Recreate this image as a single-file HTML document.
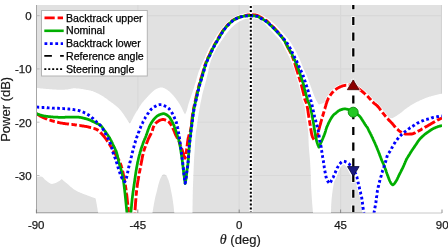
<!DOCTYPE html>
<html><head><meta charset="utf-8"><title>Beam pattern</title>
<style>
html,body{margin:0;padding:0;background:#fff;}
body{width:448px;height:252px;overflow:hidden;position:relative;font-family:"Liberation Sans",sans-serif;}
text{font-family:"Liberation Sans",sans-serif;fill:#1a1a1a;}
.tk{font-size:11.5px;stroke:#1a1a1a;stroke-width:.25px;}
.lg{font-size:10.6px;fill:#000;stroke:#000;stroke-width:.25px;}
.lb{font-size:13px;stroke:#1a1a1a;stroke-width:.2px;}
.th{font-family:"Liberation Serif",serif;font-style:italic;font-size:14px;}
</style></head><body>
<svg width="448" height="252" viewBox="0 0 448 252" style="position:absolute;left:0;top:0">
<defs><clipPath id="c"><rect x="36.5" y="5.0" width="405.5" height="208.0"/></clipPath></defs>
<rect x="36.5" y="5.0" width="405.5" height="208.0" fill="#fff"/>
<g clip-path="url(#c)">
<defs><path id="gp" d="M36.5 5.0L36.5 87.9L37.0 88.0L37.5 88.0L38.0 88.1L38.5 88.1L39.0 88.2L39.5 88.2L40.0 88.3L40.5 88.4L41.0 88.4L41.5 88.5L42.0 88.5L42.5 88.6L43.0 88.6L43.5 88.7L44.0 88.7L44.5 88.8L45.0 88.8L45.5 88.8L46.0 88.9L46.5 88.9L47.0 89.0L47.5 89.0L48.0 89.1L48.5 89.1L49.0 89.1L49.5 89.2L50.0 89.2L50.5 89.2L51.0 89.3L51.5 89.3L52.0 89.3L52.5 89.4L53.1 89.4L53.6 89.5L54.1 89.5L54.6 89.5L55.1 89.6L55.6 89.6L56.1 89.6L56.6 89.7L57.1 89.7L57.6 89.7L58.1 89.7L58.6 89.7L59.1 89.8L59.6 89.8L60.1 89.8L60.6 89.8L61.1 89.8L61.6 89.8L62.1 89.8L62.6 89.8L63.1 89.8L63.6 89.7L64.1 89.7L64.6 89.7L65.1 89.6L65.6 89.6L66.1 89.5L66.6 89.5L67.1 89.4L67.6 89.4L68.1 89.3L68.6 89.2L69.1 89.1L69.6 89.0L70.1 88.9L70.6 88.8L71.1 88.7L71.6 88.6L72.1 88.5L72.6 88.4L73.1 88.3L73.6 88.3L74.1 88.3L74.6 88.3L75.1 88.3L75.6 88.3L76.1 88.4L76.6 88.4L77.1 88.4L77.6 88.5L78.1 88.5L78.6 88.6L79.1 88.6L79.6 88.7L80.1 88.7L80.6 88.8L81.1 88.9L81.6 89.0L82.1 89.0L82.6 89.1L83.1 89.2L83.6 89.3L84.1 89.4L84.6 89.5L85.1 89.6L85.6 89.7L86.1 89.8L86.6 89.9L87.1 89.9L87.6 90.0L88.1 90.1L88.6 90.2L89.1 90.3L89.6 90.4L90.0 90.5L90.5 90.6L91.0 90.7L91.5 90.9L92.0 91.0L92.5 91.1L92.9 91.3L93.4 91.5L93.9 91.7L94.4 91.9L94.8 92.1L95.3 92.3L95.7 92.5L96.2 92.7L96.6 92.9L97.1 93.1L97.6 93.4L98.0 93.6L98.5 93.8L98.9 94.0L99.4 94.3L99.8 94.5L100.2 94.8L100.7 95.0L101.1 95.2L101.6 95.5L102.0 95.8L102.4 96.0L102.9 96.3L103.3 96.5L103.7 96.8L104.1 97.1L104.5 97.4L104.9 97.7L105.4 97.9L105.8 98.2L106.2 98.5L106.6 98.8L107.0 99.1L107.4 99.4L107.8 99.8L108.2 100.1L108.6 100.4L109.0 100.7L109.4 101.0L109.8 101.3L110.2 101.5L110.6 101.8L111.0 102.1L111.4 102.4L111.8 102.7L112.3 103.0L112.7 103.3L113.1 103.6L113.5 104.0L113.9 104.3L114.3 104.6L114.7 104.9L115.1 105.2L115.5 105.5L115.9 105.8L116.3 106.1L116.6 106.4L117.0 106.8L117.4 107.1L117.8 107.4L118.2 107.8L118.5 108.1L118.9 108.5L119.2 108.8L119.6 109.2L119.9 109.6L120.2 109.9L120.6 110.3L120.9 110.7L121.2 111.1L121.5 111.5L121.8 111.9L122.1 112.3L122.4 112.7L122.7 113.1L123.0 113.5L123.3 113.9L123.6 114.3L123.9 114.8L124.1 115.2L124.4 115.6L124.7 116.0L125.0 116.5L125.3 116.9L125.5 117.3L125.8 117.7L126.1 118.1L126.4 118.6L126.7 119.0L126.9 119.4L127.2 119.8L127.5 120.2L127.8 120.7L128.0 121.1L128.3 121.5L128.6 121.9L128.9 122.3L129.2 122.8L129.4 123.2L129.7 123.6L129.7 123.6L130.0 123.2L130.3 122.8L130.6 122.3L130.8 121.9L131.1 121.5L131.4 121.1L131.6 120.6L131.8 120.2L132.1 119.7L132.3 119.3L132.5 118.8L132.8 118.4L133.0 117.9L133.2 117.5L133.4 117.0L133.7 116.6L133.9 116.1L134.2 115.7L134.4 115.2L134.6 114.8L134.9 114.3L135.1 113.9L135.4 113.5L135.7 113.0L135.9 112.6L136.2 112.2L136.4 111.7L136.7 111.3L136.9 110.9L137.2 110.4L137.5 110.0L137.7 109.6L138.0 109.1L138.3 108.7L138.5 108.3L138.8 107.9L139.1 107.4L139.4 107.0L139.6 106.6L139.9 106.1L140.2 105.7L140.5 105.3L140.7 104.9L141.0 104.5L141.3 104.0L141.6 103.6L141.9 103.2L142.2 102.8L142.5 102.4L142.8 102.0L143.2 101.7L143.5 101.3L143.8 100.9L144.1 100.5L144.5 100.1L144.8 99.7L145.2 99.4L145.5 99.0L145.9 98.6L146.2 98.3L146.5 97.9L146.9 97.5L147.2 97.1L147.6 96.8L147.9 96.4L148.3 96.0L148.6 95.6L149.0 95.3L149.3 94.9L149.6 94.5L150.0 94.2L150.4 93.8L150.7 93.4L151.1 93.1L151.4 92.7L151.8 92.4L152.2 92.0L152.5 91.7L152.9 91.4L153.3 91.1L153.7 90.8L154.1 90.5L154.5 90.1L154.9 89.8L155.4 89.5L155.8 89.3L156.2 89.0L156.7 88.8L157.1 88.6L157.6 88.4L158.1 88.2L158.5 88.0L159.0 87.9L159.5 87.7L160.0 87.6L160.5 87.5L161.0 87.4L161.5 87.4L162.0 87.5L162.5 87.6L163.0 87.7L163.5 87.9L163.9 88.1L164.4 88.3L164.9 88.5L165.3 88.7L165.8 89.0L166.2 89.2L166.6 89.5L167.1 89.8L167.5 90.1L167.9 90.4L168.3 90.7L168.7 91.0L169.1 91.3L169.5 91.6L169.8 92.0L170.2 92.3L170.6 92.7L171.0 93.0L171.3 93.4L171.7 93.7L172.0 94.1L172.4 94.5L172.7 94.9L173.0 95.2L173.4 95.6L173.7 96.0L174.0 96.4L174.4 96.8L174.7 97.2L175.0 97.5L175.3 97.9L175.6 98.3L175.9 98.8L176.2 99.2L176.5 99.6L176.8 100.0L177.1 100.4L177.4 100.8L177.7 101.2L178.0 101.6L178.3 102.1L178.5 102.5L178.8 102.9L179.1 103.3L179.4 103.8L179.6 104.2L179.9 104.6L180.1 105.1L180.4 105.5L180.7 105.9L180.9 106.4L181.1 106.8L181.4 107.3L181.6 107.7L181.8 108.2L182.0 108.6L182.2 109.1L182.5 109.6L182.7 110.0L182.9 110.5L183.1 110.9L183.3 111.4L183.6 111.8L183.8 112.3L184.0 112.7L184.3 113.2L184.5 113.6L184.8 114.1L185.0 114.5L185.0 114.5L185.2 114.1L185.5 113.6L185.7 113.2L185.9 112.7L186.1 112.2L186.3 111.8L186.5 111.3L186.7 110.9L186.8 110.4L186.9 109.9L187.1 109.4L187.2 108.9L187.3 108.5L187.5 108.0L187.6 107.5L187.7 107.0L187.8 106.5L187.9 106.0L188.1 105.5L188.2 105.0L188.3 104.5L188.5 104.1L188.6 103.6L188.8 103.1L188.9 102.6L189.1 102.2L189.2 101.7L189.4 101.2L189.5 100.7L189.7 100.3L189.9 99.8L190.0 99.3L190.2 98.8L190.3 98.4L190.5 97.9L190.7 97.4L190.8 96.9L191.0 96.5L191.1 96.0L191.3 95.5L191.5 95.0L191.6 94.6L191.8 94.1L192.0 93.6L192.1 93.1L192.3 92.7L192.5 92.2L192.6 91.7L192.8 91.2L192.9 90.8L193.1 90.3L193.3 89.8L193.4 89.3L193.6 88.9L193.7 88.4L193.9 87.9L194.0 87.4L194.2 86.9L194.3 86.5L194.5 86.0L194.6 85.5L194.8 85.0L194.9 84.6L195.1 84.1L195.2 83.6L195.4 83.1L195.5 82.6L195.7 82.2L195.8 81.7L195.9 81.2L196.1 80.7L196.2 80.2L196.3 79.7L196.5 79.3L196.6 78.8L196.7 78.3L196.9 77.8L197.0 77.3L197.1 76.8L197.3 76.3L197.4 75.9L197.5 75.4L197.7 74.9L197.8 74.4L198.0 73.9L198.1 73.5L198.3 73.0L198.4 72.5L198.6 72.0L198.8 71.6L198.9 71.1L199.1 70.6L199.3 70.2L199.5 69.7L199.6 69.2L199.8 68.8L200.0 68.3L200.2 67.8L200.4 67.4L200.6 66.9L200.8 66.5L201.0 66.0L201.2 65.5L201.4 65.1L201.6 64.6L201.9 64.2L202.1 63.7L202.3 63.3L202.5 62.8L202.7 62.4L202.9 61.9L203.1 61.5L203.4 61.0L203.6 60.6L203.8 60.1L204.0 59.6L204.2 59.2L204.4 58.7L204.6 58.3L204.8 57.8L205.0 57.4L205.2 56.9L205.4 56.4L205.6 56.0L205.8 55.5L206.0 55.0L206.2 54.6L206.4 54.1L206.6 53.6L206.8 53.2L207.0 52.7L207.2 52.3L207.4 51.8L207.6 51.3L207.8 50.9L208.0 50.4L208.2 50.0L208.4 49.5L208.6 49.1L208.8 48.6L209.1 48.2L209.3 47.7L209.5 47.3L209.8 46.9L210.0 46.4L210.2 46.0L210.5 45.5L210.7 45.1L211.0 44.7L211.2 44.2L211.5 43.8L211.8 43.4L212.0 42.9L212.3 42.5L212.5 42.1L212.8 41.6L213.1 41.2L213.3 40.8L213.6 40.4L213.8 39.9L214.1 39.5L214.4 39.1L214.6 38.7L214.9 38.2L215.2 37.8L215.4 37.4L215.7 37.0L216.0 36.5L216.3 36.1L216.5 35.7L216.8 35.3L217.1 34.9L217.4 34.5L217.7 34.0L218.0 33.6L218.2 33.2L218.5 32.8L218.8 32.4L219.1 32.0L219.4 31.6L219.7 31.2L220.0 30.8L220.3 30.4L220.6 30.0L220.9 29.6L221.2 29.2L221.5 28.8L221.8 28.4L222.1 28.0L222.4 27.6L222.8 27.2L223.1 26.8L223.4 26.4L223.7 26.0L224.1 25.7L224.4 25.3L224.7 25.0L225.1 24.6L225.4 24.2L225.8 23.9L226.1 23.5L226.5 23.2L226.9 22.8L227.2 22.5L227.6 22.1L228.0 21.8L228.4 21.5L228.8 21.2L229.2 20.8L229.5 20.5L229.9 20.2L230.3 19.9L230.7 19.6L231.1 19.3L231.5 19.0L232.0 18.8L232.4 18.5L232.8 18.2L233.2 17.9L233.6 17.6L234.1 17.3L234.5 17.1L234.9 16.8L235.4 16.6L235.8 16.3L236.3 16.1L236.7 15.9L237.2 15.6L237.6 15.4L238.1 15.3L238.5 15.1L239.0 14.9L239.5 14.8L239.9 14.6L240.4 14.5L240.9 14.3L241.4 14.2L241.9 14.0L242.4 13.9L242.9 13.8L243.4 13.7L243.8 13.6L244.3 13.5L244.8 13.4L245.3 13.3L245.8 13.2L246.3 13.2L246.8 13.1L247.3 13.0L247.8 13.0L248.3 12.9L248.8 12.9L249.3 12.8L249.8 12.8L250.3 12.8L250.8 12.8L251.3 12.8L251.8 12.9L252.3 12.9L252.8 13.0L253.3 13.0L253.8 13.1L254.3 13.2L254.8 13.3L255.3 13.3L255.8 13.4L256.3 13.5L256.8 13.6L257.3 13.7L257.8 13.8L258.3 14.0L258.7 14.1L259.2 14.2L259.7 14.4L260.2 14.5L260.6 14.7L261.1 14.9L261.6 15.1L262.0 15.3L262.5 15.5L262.9 15.7L263.4 15.9L263.8 16.2L264.3 16.4L264.7 16.7L265.2 16.9L265.6 17.2L266.0 17.4L266.4 17.7L266.9 18.0L267.3 18.2L267.7 18.5L268.1 18.8L268.5 19.1L269.0 19.3L269.4 19.6L269.8 19.9L270.2 20.2L270.6 20.6L271.0 20.9L271.3 21.2L271.7 21.5L272.1 21.8L272.5 22.2L272.9 22.5L273.3 22.8L273.6 23.2L274.0 23.5L274.4 23.8L274.7 24.2L275.1 24.5L275.5 24.9L275.8 25.2L276.2 25.6L276.5 25.9L276.9 26.3L277.2 26.6L277.6 27.0L277.9 27.4L278.3 27.7L278.6 28.1L278.9 28.5L279.3 28.8L279.6 29.2L280.0 29.6L280.3 29.9L280.7 30.3L281.0 30.7L281.3 31.0L281.7 31.4L282.0 31.8L282.4 32.2L282.7 32.5L283.0 32.9L283.4 33.3L283.7 33.6L284.0 34.0L284.3 34.4L284.7 34.8L285.0 35.2L285.3 35.5L285.7 35.9L286.0 36.3L286.3 36.7L286.6 37.1L286.9 37.5L287.3 37.9L287.6 38.2L287.9 38.6L288.2 39.0L288.5 39.4L288.8 39.8L289.1 40.2L289.4 40.6L289.7 41.0L290.0 41.4L290.3 41.9L290.5 42.3L290.8 42.7L291.1 43.1L291.3 43.5L291.6 44.0L291.9 44.4L292.1 44.8L292.4 45.3L292.6 45.7L292.9 46.1L293.1 46.6L293.4 47.0L293.7 47.4L293.9 47.9L294.2 48.3L294.4 48.7L294.6 49.2L294.9 49.6L295.1 50.1L295.4 50.5L295.6 50.9L295.8 51.4L296.1 51.8L296.3 52.3L296.5 52.7L296.8 53.2L297.0 53.6L297.2 54.1L297.4 54.5L297.7 54.9L297.9 55.4L298.1 55.9L298.3 56.3L298.5 56.8L298.7 57.2L298.9 57.7L299.1 58.1L299.4 58.6L299.6 59.0L299.8 59.5L300.0 60.0L300.2 60.4L300.4 60.9L300.5 61.4L300.7 61.8L300.9 62.3L301.1 62.7L301.3 63.2L301.5 63.7L301.6 64.2L301.8 64.6L302.0 65.1L302.2 65.6L302.4 66.0L302.6 66.5L302.8 67.0L302.9 67.4L303.1 67.9L303.4 68.3L303.6 68.8L303.8 69.2L304.0 69.7L304.2 70.1L304.4 70.6L304.6 71.1L304.8 71.5L305.0 72.0L305.3 72.4L305.5 72.9L305.7 73.3L305.9 73.8L306.1 74.2L306.3 74.7L306.5 75.1L306.7 75.6L306.9 76.1L307.1 76.5L307.3 77.0L307.5 77.4L307.7 77.9L307.9 78.4L308.1 78.8L308.2 79.3L308.4 79.8L308.6 80.3L308.7 80.7L308.9 81.2L309.1 81.7L309.2 82.2L309.4 82.6L309.6 83.1L309.7 83.6L309.9 84.1L310.0 84.5L310.2 85.0L310.4 85.5L310.6 85.9L310.7 86.4L310.9 86.9L311.1 87.4L311.2 87.8L311.4 88.3L311.6 88.8L311.7 89.2L311.9 89.7L312.1 90.2L312.3 90.7L312.4 91.1L312.6 91.6L312.8 92.1L313.0 92.5L313.1 93.0L313.3 93.5L313.5 93.9L313.7 94.4L313.9 94.9L314.0 95.4L314.2 95.8L314.4 96.3L314.6 96.8L314.8 97.2L315.0 97.7L315.2 98.2L315.4 98.6L315.6 99.1L315.8 99.5L316.0 99.9L316.3 100.4L316.5 100.8L316.8 101.3L317.0 101.7L317.3 102.1L317.6 102.5L317.8 103.0L318.1 103.4L318.4 103.8L318.7 104.2L319.0 104.6L324.6 102.8L324.8 102.3L324.9 101.8L325.1 101.3L325.3 100.8L325.5 100.3L325.7 99.8L325.9 99.3L326.1 98.8L326.3 98.3L326.6 97.8L326.8 97.3L327.1 96.9L327.4 96.4L327.6 95.9L327.9 95.5L328.2 95.0L328.5 94.6L328.8 94.2L329.1 93.7L329.4 93.3L329.7 92.9L330.0 92.4L330.4 92.0L330.7 91.6L331.1 91.2L331.4 90.8L331.8 90.4L332.2 90.0L332.6 89.6L333.0 89.2L333.4 88.9L333.8 88.5L334.2 88.2L334.7 87.9L335.1 87.5L335.6 87.2L336.0 86.9L336.5 86.6L337.0 86.3L337.4 86.1L337.9 85.8L338.4 85.6L338.9 85.3L339.4 85.1L339.9 84.9L340.4 84.7L340.9 84.5L341.4 84.3L341.9 84.2L342.5 84.0L343.0 83.9L343.6 83.7L344.1 83.6L344.6 83.5L345.1 83.4L345.6 83.4L346.2 83.3L346.7 83.2L347.2 83.1L347.8 83.1L348.3 83.0L348.9 83.0L349.4 83.0L350.0 83.0L350.5 83.0L351.0 83.0L351.6 83.0L352.1 83.1L352.6 83.1L353.1 83.1L353.8 83.2L354.4 83.4L355.1 83.6L355.7 83.9L356.2 84.2L356.7 84.5L357.2 84.9L357.6 85.3L358.1 85.7L358.5 86.0L358.9 86.4L359.3 86.7L359.7 87.1L360.0 87.3L360.4 87.6L360.8 87.9L361.2 88.2L361.6 88.6L362.0 88.9L362.4 89.2L362.8 89.5L363.2 89.9L363.6 90.2L364.0 90.5L364.4 90.8L364.8 91.2L365.2 91.5L365.6 91.8L365.9 92.2L366.3 92.5L366.7 92.9L367.1 93.2L367.5 93.6L367.9 93.9L368.2 94.3L368.6 94.6L369.0 95.0L369.3 95.4L369.7 95.7L370.1 96.1L370.4 96.5L370.8 96.9L371.1 97.3L371.5 97.7L371.8 98.1L372.1 98.5L372.4 98.9L372.7 99.2L373.1 99.6L373.4 100.0L373.7 100.3L374.0 100.6L374.3 100.9L374.6 101.2L375.0 101.5L375.3 101.8L375.7 102.1L376.1 102.4L376.5 102.7L376.9 103.0L377.3 103.4L377.8 103.7L378.2 104.1L378.6 104.5L379.0 104.9L379.3 105.3L379.7 105.7L380.0 106.1L380.4 106.6L380.7 107.0L381.0 107.4L381.3 107.8L381.6 108.2L381.9 108.6L382.2 109.0L382.5 109.4L382.8 109.8L383.1 110.2L383.4 110.6L383.7 111.0L384.0 111.4L384.3 111.8L384.6 112.2L384.9 112.5L385.3 112.9L385.6 113.3L385.9 113.7L386.2 114.1L386.5 114.5L386.8 114.9L387.2 115.2L387.5 115.6L387.8 116.0L388.1 116.4L388.4 116.8L388.8 117.1L389.1 117.5L389.4 117.9L392.3 118.2L392.7 118.0L393.2 117.7L393.6 117.5L394.1 117.2L394.5 117.0L395.0 116.7L395.4 116.5L395.8 116.2L396.2 115.9L396.7 115.7L397.1 115.4L397.5 115.1L398.0 114.8L398.4 114.6L398.8 114.3L399.2 114.0L399.6 113.7L400.0 113.4L400.4 113.1L400.9 112.8L401.3 112.5L401.7 112.2L402.0 111.9L402.4 111.6L402.8 111.2L403.2 110.9L403.6 110.5L403.9 110.2L404.3 109.9L404.7 109.6L405.1 109.3L405.5 109.0L405.9 108.7L406.4 108.4L406.8 108.1L407.2 107.8L407.6 107.5L408.0 107.2L408.4 106.9L408.9 106.7L409.3 106.4L409.7 106.1L410.1 105.8L410.5 105.5L411.0 105.2L411.4 105.0L411.8 104.7L412.2 104.4L412.7 104.2L413.1 103.9L413.6 103.7L414.0 103.4L414.4 103.2L414.9 103.0L415.3 102.7L415.8 102.5L416.2 102.3L416.7 102.0L417.1 101.8L417.6 101.6L418.1 101.4L418.5 101.2L419.0 100.9L419.4 100.7L419.9 100.5L420.3 100.3L420.8 100.1L421.3 99.9L421.7 99.7L422.2 99.5L422.6 99.3L423.1 99.1L423.6 98.9L424.0 98.7L424.5 98.5L425.0 98.3L425.5 98.1L425.9 97.9L426.4 97.7L426.9 97.6L427.3 97.4L427.8 97.2L428.3 97.1L428.8 96.9L429.3 96.8L429.7 96.6L430.2 96.5L430.7 96.4L431.2 96.2L431.7 96.1L432.2 96.0L432.7 95.8L433.2 95.7L433.7 95.6L434.2 95.5L434.6 95.3L435.1 95.2L435.6 95.1L436.1 95.0L436.6 94.8L437.1 94.7L437.6 94.6L438.1 94.5L438.6 94.3L439.1 94.2L439.5 94.1L440.0 94.0L440.5 93.9L441.0 93.7L441.5 93.6L442.0 93.5L442.0 5.0Z M36.5 213.0L36.5 176.9L37.1 176.8L37.6 176.7L38.1 176.7L38.7 176.7L39.2 176.6L39.7 176.6L40.2 176.6L40.7 176.6L41.1 176.6L41.6 176.7L42.0 176.8L42.4 177.0L42.8 177.3L43.2 177.7L43.6 178.1L44.0 178.5L44.3 178.9L44.7 179.4L45.1 179.8L45.5 180.1L45.9 180.5L46.4 180.7L46.8 181.1L47.2 181.4L47.6 181.7L48.1 182.1L48.5 182.4L49.0 182.7L49.4 183.0L49.9 183.3L50.3 183.5L50.8 183.7L51.2 183.8L51.7 183.9L52.2 183.9L52.7 183.8L53.2 183.8L53.7 183.6L54.2 183.5L54.7 183.3L55.2 183.1L55.7 182.9L56.1 182.7L56.6 182.5L57.1 182.3L57.5 182.0L58.0 181.8L58.4 181.6L58.8 181.3L59.3 181.0L59.7 180.7L60.1 180.4L60.5 180.1L60.9 179.7L61.3 179.4L61.7 179.0L61.7 179.0L62.1 179.3L62.4 179.7L62.8 180.0L63.2 180.4L63.6 180.7L64.0 181.0L64.4 181.4L64.7 181.7L65.1 182.0L65.5 182.3L65.9 182.7L66.3 183.0L66.7 183.3L67.1 183.6L67.5 183.9L67.9 184.2L68.3 184.5L68.7 184.9L69.0 185.2L69.4 185.6L69.7 186.0L70.1 186.3L70.5 186.7L70.9 187.0L71.3 187.3L71.7 187.6L72.1 187.9L72.5 188.3L72.9 188.6L73.3 188.9L73.7 189.2L74.1 189.5L74.6 189.7L75.0 190.0L75.4 190.3L75.9 190.5L76.3 190.8L76.7 191.0L77.2 191.3L77.6 191.5L78.1 191.7L78.5 191.9L79.0 192.1L79.5 192.3L79.9 192.5L80.4 192.7L80.9 192.9L81.3 193.1L81.8 193.3L82.3 193.5L82.8 193.7L83.2 193.9L83.7 194.0L84.2 194.2L84.7 194.4L85.1 194.6L85.6 194.8L86.1 195.0L86.6 195.1L87.0 195.3L87.5 195.5L88.0 195.7L88.5 195.8L88.9 196.0L89.4 196.2L89.9 196.3L90.4 196.5L90.9 196.7L91.3 196.9L91.8 197.0L92.3 197.2L92.8 197.4L93.2 197.6L93.7 197.8L94.2 197.9L94.7 198.1L95.1 198.3L95.6 198.5L95.6 198.5L95.7 199.0L95.8 199.5L95.9 200.0L96.0 200.6L96.1 201.1L96.2 201.6L96.3 202.1L96.4 202.6L96.5 203.2L96.6 203.7L96.7 204.2L96.8 204.7L96.9 205.2L96.9 205.7L97.0 206.3L97.1 206.8L97.2 207.3L97.3 207.8L97.4 208.3L97.5 208.9L97.6 209.4L97.6 209.9L97.7 210.4L97.8 210.9L97.9 211.4L98.0 212.0L98.1 212.5L98.2 213.0L98.2 213.0Z M152.5 213.0L152.6 212.5L152.6 212.0L152.7 211.5L152.8 211.0L152.8 210.5L152.9 210.0L153.0 209.5L153.1 209.0L153.2 208.5L153.2 208.0L153.3 207.5L153.4 207.0L153.5 206.5L153.6 206.0L153.7 205.5L153.8 205.0L153.8 204.5L153.9 204.0L154.0 203.5L154.1 203.0L154.2 202.5L154.3 202.0L154.4 201.5L154.5 201.1L154.6 200.6L154.7 200.1L154.8 199.6L154.9 199.1L155.0 198.6L155.1 198.1L155.2 197.6L155.3 197.1L155.4 196.6L155.6 196.1L155.7 195.6L155.8 195.1L155.9 194.7L156.0 194.2L156.2 193.7L156.3 193.2L156.4 192.7L156.6 192.2L156.7 191.7L156.8 191.2L156.9 190.7L157.1 190.3L157.2 189.8L157.3 189.3L157.4 188.8L157.5 188.3L157.6 187.8L157.8 187.3L157.9 186.8L158.0 186.3L158.1 185.8L158.2 185.3L158.3 184.8L158.5 184.4L158.6 183.9L158.7 183.4L158.9 182.9L159.0 182.4L159.2 181.9L159.3 181.5L159.5 181.0L159.7 180.5L159.8 180.0L160.0 179.6L160.2 179.1L160.4 178.6L160.6 178.2L160.8 177.7L161.1 177.3L161.3 176.8L161.6 176.3L161.8 175.9L162.1 175.5L162.5 175.1L162.8 174.8L163.3 174.6L163.8 174.3L164.2 174.3L164.7 174.4L165.2 174.7L165.6 175.0L166.0 175.3L166.3 175.6L166.6 176.1L166.9 176.5L167.1 177.0L167.3 177.5L167.5 177.9L167.7 178.4L167.9 178.8L168.1 179.3L168.3 179.8L168.5 180.2L168.7 180.7L168.8 181.2L169.0 181.7L169.1 182.2L169.2 182.7L169.4 183.1L169.5 183.6L169.6 184.1L169.7 184.6L169.9 185.1L170.0 185.6L170.1 186.1L170.2 186.6L170.3 187.1L170.4 187.6L170.5 188.1L170.6 188.6L170.7 189.1L170.8 189.6L170.9 190.0L171.0 190.5L171.1 191.0L171.2 191.5L171.3 192.0L171.4 192.5L171.5 193.0L171.6 193.5L171.7 194.0L171.8 194.5L171.9 195.0L172.0 195.5L172.1 196.0L172.2 196.5L172.3 197.0L172.4 197.5L172.4 198.0L172.5 198.5L172.6 199.0L172.7 199.5L172.7 200.0L172.8 200.5L172.9 201.0L173.0 201.5L173.0 202.0L173.1 202.5L173.2 203.0L173.2 203.5L173.3 204.0L173.4 204.5L173.4 205.0L173.5 205.5L173.6 206.0L173.6 206.5L173.7 207.0L173.7 207.5L173.8 208.0L173.8 208.5L173.9 209.0L173.9 209.5L174.0 210.0L174.0 210.5L174.1 211.0L174.1 211.5L174.2 212.0L174.2 212.5L174.3 213.0Z M192.5 213.0L192.5 212.5L192.5 212.0L192.5 211.5L192.5 211.0L192.5 210.5L192.5 210.0L192.5 209.5L192.5 209.0L192.5 208.5L192.5 208.0L192.5 207.5L192.5 207.0L192.5 206.5L192.5 206.0L192.6 205.5L192.6 205.0L192.6 204.5L192.6 204.0L192.6 203.5L192.6 203.0L192.6 202.5L192.6 202.0L192.6 201.5L192.6 201.0L192.6 200.5L192.6 200.0L192.6 199.5L192.7 199.0L192.7 198.5L192.7 198.0L192.7 197.5L192.7 197.0L192.7 196.5L192.7 196.0L192.7 195.5L192.7 195.0L192.7 194.5L192.8 194.0L192.8 193.5L192.8 193.0L192.8 192.5L192.8 192.0L192.8 191.5L192.8 191.0L192.8 190.5L192.8 190.0L192.9 189.5L192.9 189.0L192.9 188.5L192.9 188.0L192.9 187.5L192.9 187.0L193.0 186.5L193.0 186.0L193.0 185.5L193.0 185.0L193.0 184.5L193.0 184.0L193.1 183.5L193.1 183.0L193.1 182.5L193.1 182.0L193.1 181.5L193.2 181.0L193.2 180.5L193.2 180.0L193.2 179.5L193.2 179.0L193.3 178.5L193.3 178.0L193.3 177.5L193.3 177.0L193.4 176.5L193.4 176.0L193.4 175.5L193.4 175.0L193.4 174.5L193.4 174.0L193.5 173.5L193.5 173.0L193.5 172.5L193.5 172.0L193.5 171.5L193.6 171.0L193.6 170.5L193.6 170.0L193.6 169.5L193.6 169.0L193.6 168.5L193.7 168.0L193.7 167.5L193.7 167.0L193.7 166.5L193.7 166.0L193.8 165.5L193.8 165.0L193.8 164.5L193.8 164.0L193.8 163.5L193.9 163.0L193.9 162.5L193.9 162.0L193.9 161.5L194.0 161.0L194.0 160.5L194.0 160.0L194.0 159.5L194.1 159.0L194.1 158.5L194.1 158.0L194.1 157.5L194.2 157.0L194.2 156.5L194.2 156.0L194.3 155.5L194.3 155.0L194.3 154.5L194.4 154.0L194.4 153.5L194.4 153.0L194.5 152.5L194.5 152.0L194.5 151.5L194.6 151.0L194.6 150.5L194.6 150.0L194.7 149.5L194.7 149.0L194.7 148.5L194.8 148.0L194.8 147.5L194.8 147.0L194.9 146.5L194.9 146.0L194.9 145.5L195.0 145.0L195.0 144.5L195.0 144.0L195.0 143.5L195.1 143.0L195.1 142.5L195.1 142.0L195.1 141.5L195.2 141.0L195.2 140.5L195.2 140.0L195.3 139.5L195.3 139.0L195.3 138.5L195.4 138.0L195.4 137.5L195.4 137.0L195.5 136.5L195.5 136.0L195.6 135.5L195.6 135.0L195.7 134.5L195.7 134.0L195.8 133.5L195.8 133.0L195.9 132.5L195.9 132.0L196.0 131.5L196.1 131.0L196.2 130.5L196.3 130.0L196.3 129.5L196.4 129.0L196.5 128.5L196.6 128.0L196.7 127.6L196.8 127.1L196.9 126.6L196.9 126.1L197.0 125.6L197.1 125.1L197.1 124.6L197.2 124.1L197.3 123.6L197.3 123.1L197.4 122.6L197.5 122.1L197.5 121.6L197.6 121.1L197.6 120.6L197.7 120.1L197.8 119.6L197.8 119.1L197.9 118.6L198.0 118.1L198.0 117.6L198.1 117.1L198.2 116.6L198.3 116.1L198.3 115.6L198.4 115.2L198.5 114.7L198.6 114.2L198.6 113.7L198.7 113.2L198.8 112.7L198.9 112.2L199.0 111.7L199.1 111.2L199.2 110.7L199.2 110.2L199.3 109.7L199.4 109.2L199.5 108.7L199.6 108.2L199.7 107.8L199.8 107.3L199.9 106.8L200.0 106.3L200.1 105.8L200.1 105.3L200.2 104.8L200.3 104.3L200.4 103.8L200.5 103.3L200.6 102.8L200.7 102.3L200.8 101.8L200.9 101.4L201.0 100.9L201.1 100.4L201.2 99.9L201.3 99.4L201.4 98.9L201.5 98.4L201.6 97.9L201.7 97.4L201.8 96.9L201.9 96.4L202.0 96.0L202.1 95.5L202.2 95.0L202.3 94.5L202.4 94.0L202.5 93.5L202.7 93.0L202.8 92.6L202.9 92.1L203.0 91.6L203.2 91.1L203.3 90.6L203.4 90.1L203.6 89.7L203.7 89.2L203.8 88.7L204.0 88.2L204.1 87.7L204.3 87.2L204.4 86.8L204.5 86.3L204.7 85.8L204.8 85.3L204.9 84.8L205.0 84.3L205.2 83.9L205.3 83.4L205.4 82.9L205.5 82.4L205.7 81.9L205.8 81.4L205.9 80.9L206.0 80.5L206.2 80.0L206.3 79.5L206.4 79.0L206.5 78.5L206.6 78.0L206.8 77.5L206.9 77.1L207.0 76.6L207.1 76.1L207.2 75.6L207.4 75.1L207.5 74.6L207.6 74.1L207.7 73.7L207.8 73.2L207.9 72.7L208.1 72.2L208.2 71.7L208.3 71.2L208.4 70.7L208.5 70.2L208.6 69.7L208.7 69.3L208.8 68.8L208.9 68.3L209.0 67.8L209.1 67.3L209.2 66.8L209.3 66.3L209.4 65.8L209.5 65.3L209.6 64.8L209.8 64.4L209.9 63.9L210.0 63.4L210.2 62.9L210.3 62.5L210.5 62.0L210.6 61.5L210.8 61.0L210.9 60.6L211.1 60.1L211.3 59.6L211.5 59.1L211.7 58.7L211.8 58.2L212.0 57.7L212.2 57.3L212.4 56.8L212.6 56.3L212.8 55.9L213.0 55.4L213.2 55.0L213.4 54.5L213.6 54.1L213.8 53.6L214.0 53.2L214.3 52.7L214.5 52.3L214.7 51.8L214.9 51.4L215.2 50.9L215.4 50.5L215.6 50.0L215.9 49.6L216.1 49.1L216.4 48.7L216.6 48.3L216.9 47.8L217.1 47.4L217.4 47.0L217.6 46.6L217.9 46.1L218.2 45.7L218.4 45.3L218.7 44.9L219.0 44.4L219.2 44.0L219.5 43.6L219.8 43.2L220.1 42.8L220.4 42.4L220.7 42.0L220.9 41.5L221.2 41.1L221.5 40.7L221.8 40.3L222.1 39.9L222.4 39.5L222.6 39.1L222.9 38.6L223.2 38.2L223.5 37.8L223.8 37.4L224.0 37.0L224.3 36.6L224.6 36.2L224.9 35.7L225.2 35.3L225.5 34.9L225.8 34.5L226.1 34.1L226.4 33.7L226.7 33.3L227.0 32.9L227.3 32.5L227.6 32.2L227.9 31.8L228.2 31.4L228.6 31.0L228.9 30.6L229.2 30.2L229.5 29.8L229.9 29.5L230.2 29.1L230.5 28.7L230.9 28.3L231.2 28.0L231.6 27.6L231.9 27.3L232.3 26.9L232.7 26.6L233.0 26.2L233.4 25.9L233.8 25.6L234.1 25.3L234.5 24.9L234.9 24.6L235.3 24.3L235.7 24.0L236.1 23.7L236.5 23.4L236.9 23.1L237.4 22.8L237.8 22.5L238.2 22.3L238.6 22.0L239.1 21.7L239.5 21.5L239.9 21.3L240.4 21.1L240.8 20.8L241.3 20.6L241.7 20.4L242.2 20.2L242.7 20.0L243.1 19.8L243.6 19.6L244.1 19.4L244.6 19.3L245.0 19.1L245.5 19.0L246.0 18.9L246.5 18.8L247.0 18.7L247.5 18.7L248.0 18.6L248.5 18.5L249.0 18.4L249.5 18.4L250.0 18.3L250.5 18.3L251.0 18.3L251.5 18.3L252.0 18.3L252.5 18.3L253.0 18.4L253.5 18.4L254.0 18.5L254.5 18.6L255.0 18.6L255.5 18.7L255.9 18.8L256.4 18.9L256.9 19.0L257.4 19.1L257.9 19.2L258.4 19.4L258.9 19.6L259.3 19.7L259.8 19.9L260.2 20.1L260.7 20.3L261.1 20.6L261.5 20.9L261.9 21.2L262.3 21.5L262.7 21.8L263.1 22.2L263.5 22.5L263.9 22.8L264.2 23.1L264.6 23.5L264.9 23.8L265.3 24.2L265.6 24.6L266.0 24.9L266.3 25.3L266.6 25.7L267.0 26.1L267.3 26.4L267.6 26.8L268.0 27.2L268.3 27.6L268.6 27.9L269.0 28.3L269.3 28.7L269.7 29.0L270.0 29.4L270.4 29.8L270.7 30.1L271.0 30.5L271.4 30.9L271.7 31.2L272.1 31.6L272.4 32.0L272.7 32.3L273.1 32.7L273.4 33.1L273.8 33.4L274.1 33.8L274.4 34.2L274.8 34.5L275.1 34.9L275.4 35.3L275.8 35.7L276.1 36.0L276.5 36.4L276.8 36.8L277.2 37.1L277.5 37.5L277.9 37.9L278.2 38.2L278.5 38.6L278.9 39.0L279.2 39.3L279.5 39.7L279.8 40.1L280.1 40.5L280.4 40.9L280.7 41.3L281.0 41.7L281.3 42.1L281.6 42.5L281.8 43.0L282.1 43.4L282.4 43.8L282.6 44.2L282.9 44.7L283.1 45.1L283.4 45.6L283.6 46.0L283.9 46.4L284.1 46.9L284.3 47.3L284.6 47.7L284.8 48.2L285.1 48.6L285.3 49.1L285.5 49.5L285.7 50.0L286.0 50.4L286.2 50.9L286.4 51.3L286.6 51.8L286.9 52.2L287.1 52.7L287.3 53.1L287.5 53.6L287.7 54.0L287.9 54.5L288.2 54.9L288.4 55.4L288.6 55.8L288.8 56.3L289.0 56.7L289.2 57.2L289.5 57.6L289.7 58.1L289.9 58.5L290.1 59.0L290.3 59.4L290.5 59.9L290.7 60.4L290.9 60.8L291.1 61.3L291.3 61.7L291.5 62.2L291.7 62.6L291.9 63.1L292.1 63.6L292.3 64.0L292.5 64.5L292.7 64.9L292.9 65.4L293.1 65.9L293.3 66.3L293.5 66.8L293.7 67.3L293.9 67.7L294.0 68.2L294.2 68.7L294.4 69.1L294.5 69.6L294.7 70.1L294.8 70.6L295.0 71.0L295.1 71.5L295.2 72.0L295.4 72.5L295.5 73.0L295.6 73.5L295.7 73.9L295.9 74.4L296.0 74.9L296.1 75.4L296.2 75.9L296.4 76.4L296.5 76.9L296.6 77.3L296.8 77.8L296.9 78.3L297.0 78.8L297.2 79.3L297.3 79.8L297.4 80.2L297.6 80.7L297.7 81.2L297.8 81.7L298.0 82.2L298.1 82.6L298.3 83.1L298.4 83.6L298.5 84.1L298.7 84.6L298.8 85.0L298.9 85.5L299.1 86.0L299.2 86.5L299.3 87.0L299.5 87.5L299.6 87.9L299.7 88.4L299.8 88.9L300.0 89.4L300.1 89.9L300.2 90.4L300.4 90.9L300.5 91.3L300.6 91.8L300.7 92.3L300.9 92.8L301.0 93.3L301.1 93.8L301.2 94.3L301.3 94.7L301.4 95.2L301.5 95.7L301.6 96.2L301.7 96.7L301.8 97.2L301.9 97.7L302.0 98.2L302.1 98.7L302.3 99.1L302.4 99.6L302.5 100.1L302.7 100.6L302.9 101.1L303.1 101.5L303.2 102.0L303.4 102.5L303.6 102.9L303.8 103.4L304.0 103.9L304.1 104.3L304.3 104.8L304.4 105.3L304.4 105.8L304.5 106.3L304.6 106.8L304.7 107.2L304.8 107.7L304.8 108.2L304.9 108.7L305.0 109.2L305.0 109.7L305.1 110.2L305.1 110.7L305.2 111.2L305.2 111.7L305.3 112.2L305.3 112.7L305.4 113.2L305.4 113.7L305.5 114.2L305.6 114.7L305.6 115.2L305.7 115.7L305.7 116.2L305.8 116.7L305.9 117.2L305.9 117.7L306.0 118.2L306.1 118.7L306.2 119.2L306.3 119.7L306.4 120.2L306.5 120.7L306.5 121.2L306.6 121.7L306.7 122.2L306.8 122.7L306.9 123.2L307.0 123.6L307.1 124.1L307.2 124.6L307.3 125.1L307.4 125.6L307.4 126.1L307.5 126.6L307.6 127.1L307.7 127.6L307.8 128.1L307.8 128.6L307.9 129.1L308.0 129.6L308.0 130.1L308.1 130.6L308.1 131.1L308.2 131.6L308.2 132.1L308.3 132.6L308.3 133.1L308.3 133.6L308.4 134.0L308.4 134.5L308.4 135.0L308.4 135.5L308.4 136.0L308.4 136.5L308.5 137.0L308.5 137.5L308.5 138.0L308.5 138.6L308.5 139.1L308.5 139.6L308.5 140.1L308.6 140.6L308.6 141.1L308.6 141.6L308.6 142.1L308.6 142.6L308.6 143.1L308.7 143.6L308.7 144.1L308.7 144.6L308.7 145.1L308.7 145.6L308.8 146.1L308.8 146.6L308.8 147.1L308.9 147.6L308.9 148.1L308.9 148.6L309.0 149.1L309.0 149.6L309.1 150.1L309.1 150.6L309.1 151.1L309.2 151.5L309.2 152.0L309.3 152.5L309.3 153.0L309.4 153.5L309.4 154.0L309.5 154.5L309.5 155.0L309.6 155.5L309.6 156.0L309.6 156.5L309.7 157.0L309.7 157.5L309.8 158.0L309.8 158.5L309.9 159.0L309.9 159.5L309.9 160.0L310.0 160.5L310.0 161.0L310.1 161.5L310.1 162.0L310.1 162.5L310.2 163.0L310.2 163.5L310.2 164.0L310.2 164.5L310.3 165.0L310.3 165.5L310.3 166.0L310.3 166.5L310.4 167.0L310.4 167.5L310.4 168.0L310.4 168.5L310.5 169.0L310.5 169.5L310.5 170.0L310.5 170.5L310.5 171.0L310.6 171.5L310.6 172.0L310.6 172.5L310.6 173.0L310.6 173.5L310.6 174.0L310.7 174.5L310.7 175.0L310.7 175.5L310.7 176.0L310.7 176.5L310.8 177.0L310.8 177.5L310.8 178.0L310.8 178.5L310.8 179.0L310.8 179.5L310.9 180.0L310.9 180.5L310.9 181.0L310.9 181.5L310.9 182.0L311.0 182.5L311.0 183.0L311.0 183.5L311.0 184.0L311.0 184.5L311.1 185.0L311.1 185.5L311.1 186.0L311.1 186.5L311.2 187.0L311.2 187.5L311.2 188.0L311.2 188.5L311.3 189.0L311.3 189.5L311.3 190.0L311.3 190.5L311.4 191.0L311.4 191.5L311.4 192.0L311.4 192.5L311.5 193.0L311.5 193.5L311.5 194.0L311.6 194.5L311.6 195.0L311.6 195.5L311.7 196.0L311.7 196.5L311.7 197.0L311.8 197.5L311.8 198.0L311.8 198.5L311.9 199.0L311.9 199.5L311.9 200.0L312.0 200.5L312.0 201.0L312.1 201.5L312.1 202.0L312.1 202.5L312.2 203.0L312.2 203.5L312.2 204.0L312.3 204.5L312.3 205.0L312.4 205.5L312.4 206.0L312.4 206.5L312.5 207.0L312.5 207.5L312.6 208.0L312.6 208.5L312.7 209.0L312.7 209.5L312.7 210.0L312.8 210.5L312.8 211.0L312.9 211.5L312.9 212.0L313.0 212.5L313.0 213.0Z M331.0 213.0L331.0 212.5L331.0 211.9L331.0 211.4L331.0 210.9L331.0 210.3L331.0 209.8L331.0 209.3L331.1 208.7L331.1 208.2L331.1 207.7L331.1 207.2L331.1 206.6L331.2 206.1L331.2 205.6L331.2 205.1L331.2 204.6L331.3 204.1L331.3 203.5L331.3 203.0L331.4 202.5L331.4 202.0L331.4 201.5L331.5 201.0L331.5 200.5L331.5 200.0L331.6 199.5L331.6 199.0L331.7 198.5L331.7 198.0L331.8 197.5L331.8 197.0L331.9 196.5L331.9 196.0L332.0 195.5L332.0 195.0L332.1 194.5L332.2 194.0L332.2 193.5L332.3 193.0L332.4 192.5L332.4 192.0L332.5 191.5L332.6 191.0L332.6 190.6L332.7 190.1L332.8 189.6L332.8 189.1L332.9 188.6L333.0 188.1L333.1 187.6L333.2 187.2L333.2 186.7L333.3 186.2L333.4 185.7L333.5 185.2L333.6 184.8L333.7 184.3L333.8 183.8L333.8 183.3L333.9 182.9L334.0 182.4L334.1 181.9L334.3 181.4L334.5 181.0L334.7 180.5L334.9 180.1L335.2 179.6L335.4 179.2L335.7 178.7L335.9 178.2L336.1 177.8L336.3 177.3L336.5 176.9L336.7 176.4L336.9 175.9L337.1 175.5L337.3 175.0L337.5 174.5L337.7 174.0L337.9 173.6L338.1 173.1L338.2 172.6L338.4 172.2L338.6 171.7L338.8 171.2L339.0 170.8L339.2 170.3L339.5 169.9L339.7 169.4L339.9 169.0L340.1 168.5L340.4 168.0L340.6 167.6L340.9 167.1L341.1 166.7L341.4 166.3L341.7 165.9L342.1 165.5L342.4 165.0L342.8 164.7L343.2 164.4L343.6 164.4L344.1 164.6L344.5 164.9L344.9 165.3L345.3 165.6L345.6 166.0L345.9 166.4L346.2 166.8L346.5 167.3L346.7 167.7L347.0 168.1L347.2 168.6L347.5 169.0L347.7 169.5L347.9 169.9L348.1 170.4L348.3 170.9L348.6 171.3L348.8 171.8L349.0 172.2L349.2 172.7L349.5 173.1L349.7 173.6L349.9 174.0L350.2 174.5L350.4 174.9L350.7 175.3L351.0 175.7L351.3 176.1L351.6 176.5L351.9 176.9L352.3 177.3L352.6 177.7L352.9 178.0L353.3 178.4L353.7 178.7L354.1 179.1L354.6 179.4L355.0 179.7L355.3 180.1L355.6 180.4L355.7 180.8L355.9 181.3L356.0 181.7L356.1 182.2L356.2 182.7L356.3 183.2L356.4 183.8L356.4 184.3L356.5 184.8L356.6 185.3L356.7 185.8L356.8 186.3L356.9 186.8L357.0 187.3L357.2 187.8L357.3 188.3L357.4 188.8L357.5 189.3L357.6 189.8L357.8 190.3L357.9 190.8L358.0 191.2L358.2 191.7L358.3 192.2L358.4 192.7L358.5 193.2L358.7 193.7L358.8 194.2L358.9 194.7L359.1 195.1L359.2 195.6L359.3 196.1L359.5 196.6L359.6 197.1L359.7 197.6L359.9 198.1L360.0 198.6L360.1 199.0L360.2 199.5L360.3 200.0L360.4 200.5L360.5 201.0L360.6 201.5L360.7 202.0L360.8 202.5L360.9 203.0L361.0 203.5L361.1 204.0L361.1 204.5L361.2 205.0L361.3 205.5L361.4 206.0L361.5 206.5L361.6 207.0L361.6 207.5L361.7 208.0L361.8 208.5L361.8 209.0L361.9 209.5L362.0 210.0L362.0 210.5L362.1 211.0L362.2 211.5L362.2 212.0L362.3 212.5L362.3 213.0Z"/><clipPath id="gm"><use href="#gp"/></clipPath></defs>
<use href="#gp" fill="#e1e1e1"/>
<g clip-path="url(#gm)" stroke="#d8d8d8" stroke-width="1.1">
<line x1="137.8" x2="137.8" y1="5.0" y2="213.0"/>
<line x1="239.2" x2="239.2" y1="5.0" y2="213.0"/>
<line x1="340.6" x2="340.6" y1="5.0" y2="213.0"/>
<line x1="36.5" x2="442.0" y1="15.6" y2="15.6"/>
<line x1="36.5" x2="442.0" y1="68.9" y2="68.9"/>
<line x1="36.5" x2="442.0" y1="122.2" y2="122.2"/>
<line x1="36.5" x2="442.0" y1="175.5" y2="175.5"/>
<path d="M441.5 5.0V213.0" fill="none" stroke="#d2d2d2"/>
</g>
<line x1="250.8" x2="250.8" y1="5.0" y2="213.0" stroke="#fff" stroke-width="3.8" stroke-opacity=".85"/>
<defs><path id="rp" d="M36.5 113.8L36.9 114.0L37.4 114.3L37.8 114.6L38.2 114.8L38.7 115.1L39.1 115.3L39.5 115.6L40.0 115.9L40.4 116.1L40.9 116.3L41.3 116.6L41.7 116.8L42.2 117.1L42.6 117.3L43.1 117.5L43.5 117.7L44.0 117.9L44.5 118.1L44.9 118.3L45.4 118.5L45.8 118.7L46.3 118.9L46.8 119.0L47.2 119.2L47.7 119.4L48.2 119.5L48.6 119.7L49.1 119.9L49.6 120.0L50.1 120.2L50.5 120.3L51.0 120.5L51.5 120.6L52.0 120.8L52.5 120.9L53.0 121.1L53.4 121.2L53.9 121.4L54.4 121.5L54.9 121.6L55.4 121.8L55.9 121.9L56.4 122.0L56.9 122.1L57.4 122.2L57.9 122.4L58.4 122.5L58.8 122.6L59.3 122.7L59.8 122.8L60.3 122.9L60.8 123.0L61.3 123.1L61.8 123.1L62.3 123.2L62.8 123.3L63.3 123.4L63.8 123.5L64.3 123.5L64.8 123.6L65.3 123.7L65.8 123.7L66.3 123.8L66.8 123.9L67.3 123.9L67.8 124.0L68.3 124.0L68.8 124.1L69.3 124.2L69.8 124.2L70.3 124.3L70.8 124.3L71.3 124.4L71.8 124.4L72.3 124.5L72.8 124.6L73.3 124.6L73.8 124.7L74.3 124.8L74.8 124.8L75.3 124.9L75.8 125.0L76.2 125.0L76.7 125.1L77.2 125.2L77.7 125.2L78.2 125.3L78.7 125.4L79.2 125.5L79.7 125.5L80.2 125.6L80.7 125.7L81.2 125.7L81.7 125.8L82.2 125.9L82.7 126.0L83.2 126.0L83.7 126.1L84.2 126.2L84.7 126.3L85.2 126.4L85.7 126.4L86.2 126.5L86.7 126.6L87.2 126.7L87.7 126.8L88.2 126.9L88.6 127.0L89.1 127.1L89.6 127.3L90.1 127.4L90.6 127.5L91.1 127.6L91.6 127.8L92.1 127.9L92.6 128.0L93.1 128.2L93.6 128.3L94.1 128.5L94.6 128.7L95.1 128.9L95.6 129.0L96.0 129.2L96.5 129.4L96.9 129.6L97.4 129.9L97.8 130.1L98.2 130.3L98.6 130.6L99.0 130.9L99.3 131.2L99.7 131.6L100.0 132.0L100.3 132.4L100.7 132.7L101.0 133.1L101.4 133.5L101.7 133.8L102.1 134.2L102.4 134.6L102.7 135.0L103.1 135.3L103.4 135.7L103.7 136.1L104.1 136.5L104.4 136.9L104.7 137.3L105.0 137.7L105.3 138.1L105.6 138.5L105.9 138.9L106.2 139.3L106.4 139.7L106.7 140.1L107.0 140.5L107.3 141.0L107.5 141.4L107.8 141.8L108.1 142.2L108.4 142.7L108.6 143.1L108.9 143.5L109.2 143.9L109.4 144.3L109.7 144.8L110.0 145.2L110.2 145.6L110.5 146.0L110.8 146.5L111.0 146.9L111.3 147.3L111.6 147.8L111.8 148.2L112.1 148.6L112.4 149.0L112.6 149.5L112.9 149.9L113.2 150.3L113.4 150.7L113.7 151.2L113.9 151.6L114.2 152.0L114.4 152.5L114.7 152.9L115.0 153.3L115.2 153.8L115.5 154.2L115.7 154.7L116.0 155.1L116.3 155.5L116.5 156.0L116.8 156.4L117.0 156.9L117.3 157.3L117.6 157.7L117.8 158.2L118.1 158.6L118.3 159.1L118.5 159.5L118.8 160.0L119.0 160.4L119.2 160.9L119.4 161.3L119.7 161.8L119.9 162.2L120.1 162.7L120.3 163.1L120.4 163.6L120.6 164.0L120.8 164.5L120.9 165.0L121.1 165.4L121.2 165.9L121.4 166.4L121.5 166.9L121.6 167.3L121.8 167.8L121.9 168.3L122.0 168.8L122.2 169.2L122.3 169.7L122.4 170.2L122.5 170.7L122.6 171.2L122.8 171.7L122.9 172.1L123.0 172.6L123.1 173.1L123.2 173.6L123.3 174.1L123.4 174.6L123.5 175.1L123.6 175.6L123.7 176.1L123.8 176.6L123.9 177.1L124.0 177.6L124.1 178.1L124.2 178.6L124.3 179.1L124.4 179.6L124.5 180.1L124.6 180.6L124.7 181.1L124.7 181.6L124.8 182.1L124.9 182.6L125.0 183.1L125.1 183.6L125.2 184.1L125.2 184.6L125.3 185.1L125.4 185.6L125.5 186.1L125.6 186.6L125.6 187.1L125.7 187.6L125.8 188.1L125.9 188.6L125.9 189.1L126.0 189.6L126.1 190.1L126.1 190.6L126.2 191.1L126.3 191.6L126.3 192.1L126.4 192.6L126.5 193.1L126.5 193.6L126.6 194.1L126.7 194.5L126.7 195.0L126.8 195.5L126.8 196.0L126.9 196.5L127.0 197.0L127.0 197.5L127.1 198.0L127.1 198.5L127.2 199.0L127.2 199.5L127.3 200.0L127.3 200.5L127.4 201.0L127.4 201.5L127.5 202.0L127.5 202.5L127.6 203.0L127.7 203.5L127.7 204.0L127.8 204.5L127.8 205.0L127.9 205.5L127.9 206.0L128.0 206.5L128.0 207.0L128.1 207.5L128.1 208.0L128.2 208.5L128.2 209.0L128.3 209.5L128.3 210.0L128.4 210.5L128.4 211.0L128.5 211.5L128.5 212.0L128.6 212.5L128.7 213.0L128.7 213.5L128.8 214.0L128.8 214.5L128.9 215.0L128.9 215.5L129.0 216.0L129.1 216.5L129.1 217.0L129.2 217.5L129.2 218.0L129.3 218.5L129.3 219.0L129.4 219.5L129.5 220.0L129.5 220.5L129.6 221.0L129.6 221.5L129.7 222.0L129.7 222.5L129.8 223.0L129.9 223.5L129.9 224.0L130.0 224.5L130.0 225.0L130.1 225.5L130.1 226.0L130.2 226.5L130.2 227.0L130.3 227.5L130.4 228.0L130.4 228.5L130.5 229.0L130.5 229.5L130.6 230.0L130.6 230.5L130.7 231.0L130.8 231.5L130.8 232.0L130.9 232.5L130.9 233.0L131.0 233.5L131.0 234.0L131.1 234.5L131.2 235.0L131.2 235.5L131.3 236.0L131.3 236.5L131.4 237.0L131.4 237.5L131.5 238.0L131.6 238.5L131.6 239.0L131.7 239.5L131.7 240.0L131.8 240.5L131.8 241.0L131.9 241.5L131.9 242.0L132.0 242.5L132.1 243.0L132.1 243.5L132.2 244.0L132.2 244.5L132.3 245.0L132.3 245.5L132.4 246.0L132.4 246.0L132.4 245.5L132.5 245.0L132.5 244.5L132.6 244.0L132.6 243.5L132.6 243.0L132.7 242.5L132.7 242.0L132.7 241.5L132.8 241.0L132.8 240.5L132.9 240.0L132.9 239.5L132.9 239.0L133.0 238.5L133.0 238.0L133.0 237.5L133.1 237.0L133.1 236.5L133.2 236.0L133.2 235.5L133.2 235.0L133.3 234.5L133.3 234.0L133.3 233.5L133.4 233.0L133.4 232.5L133.5 232.0L133.5 231.5L133.5 231.0L133.6 230.5L133.6 230.0L133.6 229.5L133.7 229.0L133.7 228.5L133.8 228.0L133.8 227.5L133.8 227.0L133.9 226.5L133.9 226.0L133.9 225.5L134.0 225.0L134.0 224.5L134.0 224.0L134.1 223.5L134.1 223.0L134.2 222.5L134.2 222.0L134.2 221.5L134.3 221.0L134.3 220.5L134.3 220.0L134.4 219.5L134.4 219.0L134.5 218.5L134.5 218.0L134.5 217.5L134.6 217.0L134.6 216.5L134.6 216.0L134.7 215.5L134.7 215.0L134.8 214.5L134.8 214.0L134.8 213.5L134.9 213.0L134.9 212.5L134.9 212.0L135.0 211.5L135.0 211.0L135.0 210.5L135.1 210.0L135.1 209.5L135.1 209.0L135.2 208.5L135.2 208.0L135.2 207.5L135.3 207.0L135.3 206.5L135.3 206.0L135.4 205.5L135.4 205.0L135.4 204.5L135.5 204.0L135.5 203.5L135.5 203.0L135.6 202.5L135.6 202.0L135.7 201.5L135.7 201.0L135.7 200.5L135.8 200.0L135.8 199.5L135.8 199.0L135.9 198.5L135.9 198.0L136.0 197.5L136.0 197.0L136.0 196.5L136.1 196.0L136.1 195.5L136.2 195.0L136.2 194.5L136.3 194.0L136.3 193.5L136.4 193.0L136.4 192.5L136.5 192.0L136.5 191.5L136.6 191.0L136.6 190.5L136.7 190.0L136.8 189.5L136.8 189.0L136.9 188.5L136.9 188.0L137.0 187.5L137.1 187.0L137.1 186.5L137.2 186.0L137.3 185.5L137.3 185.0L137.4 184.5L137.5 184.0L137.5 183.5L137.6 183.0L137.7 182.5L137.8 182.0L137.8 181.5L137.9 181.0L138.0 180.5L138.1 180.1L138.2 179.6L138.3 179.1L138.3 178.6L138.4 178.1L138.5 177.6L138.6 177.1L138.7 176.6L138.8 176.1L138.9 175.6L139.0 175.1L139.1 174.6L139.2 174.1L139.3 173.6L139.3 173.1L139.4 172.7L139.5 172.2L139.6 171.7L139.7 171.2L139.8 170.7L139.9 170.2L140.0 169.7L140.1 169.2L140.2 168.7L140.2 168.2L140.3 167.7L140.4 167.2L140.5 166.7L140.6 166.2L140.7 165.7L140.8 165.3L140.9 164.8L141.0 164.3L141.1 163.8L141.2 163.3L141.3 162.8L141.4 162.3L141.5 161.8L141.6 161.3L141.7 160.8L141.8 160.3L141.9 159.8L142.0 159.3L142.0 158.8L142.1 158.4L142.2 157.9L142.3 157.4L142.4 156.9L142.5 156.4L142.6 155.9L142.7 155.4L142.8 154.9L143.0 154.4L143.1 153.9L143.2 153.4L143.3 153.0L143.4 152.5L143.5 152.0L143.7 151.5L143.8 151.0L143.9 150.5L144.1 150.1L144.2 149.6L144.4 149.1L144.6 148.6L144.7 148.2L144.9 147.7L145.1 147.2L145.3 146.8L145.4 146.3L145.6 145.8L145.8 145.4L146.0 144.9L146.2 144.4L146.4 143.9L146.5 143.5L146.7 143.0L146.9 142.5L147.1 142.1L147.3 141.6L147.5 141.1L147.7 140.7L147.8 140.2L148.0 139.8L148.2 139.3L148.4 138.8L148.6 138.4L148.8 137.9L149.1 137.5L149.3 137.0L149.5 136.6L149.7 136.1L150.0 135.7L150.2 135.2L150.5 134.8L150.7 134.3L150.9 133.9L151.2 133.5L151.4 133.0L151.6 132.6L151.8 132.1L152.0 131.6L152.2 131.2L152.3 130.7L152.5 130.2L152.6 129.7L152.7 129.2L152.9 128.7L153.0 128.2L153.1 127.8L153.3 127.3L153.5 126.8L153.7 126.4L153.9 126.0L154.1 125.5L154.4 125.1L154.7 124.6L155.0 124.2L155.3 123.8L155.6 123.4L156.0 123.0L156.3 122.6L156.7 122.3L157.1 122.0L157.4 121.8L157.8 121.5L158.3 121.2L158.7 120.9L159.2 120.7L159.6 120.4L160.1 120.2L160.6 120.0L161.1 119.8L161.6 119.7L162.1 119.6L162.6 119.5L163.0 119.5L163.5 119.5L164.0 119.6L164.5 119.7L165.0 119.9L165.5 120.1L166.0 120.3L166.5 120.5L167.0 120.7L167.4 120.9L167.8 121.1L168.2 121.4L168.6 121.7L168.9 122.0L169.3 122.4L169.6 122.8L169.9 123.2L170.3 123.6L170.6 124.0L170.9 124.5L171.1 124.9L171.4 125.3L171.6 125.7L171.9 126.2L172.1 126.6L172.3 127.1L172.6 127.5L172.8 128.0L173.0 128.4L173.2 128.9L173.4 129.4L173.6 129.8L173.8 130.3L174.0 130.7L174.2 131.2L174.4 131.7L174.6 132.1L174.8 132.6L174.9 133.1L175.1 133.5L175.3 134.0L175.5 134.5L175.7 134.9L175.9 135.4L176.2 135.8L176.4 136.3L176.6 136.7L176.9 137.1L177.1 137.6L177.4 138.0L177.7 138.4L177.9 138.9L178.1 139.3L178.4 139.8L178.6 140.2L178.8 140.7L178.9 141.1L179.1 141.6L179.3 142.1L179.4 142.6L179.6 143.0L179.7 143.5L179.9 144.0L180.0 144.5L180.2 145.0L180.3 145.4L180.5 145.9L180.7 146.4L180.8 146.9L181.0 147.3L181.2 147.8L181.5 148.2L181.7 148.7L181.9 149.1L182.0 149.6L182.2 150.1L182.4 150.6L182.5 151.0L182.7 151.5L182.8 152.0L183.0 152.5L183.1 153.0L183.3 153.4L183.4 153.9L183.6 154.4L183.7 154.9L183.9 155.3L184.1 155.8L184.3 156.3L184.5 156.7L184.7 157.2L184.9 157.6L185.1 158.1L185.1 158.1L185.2 157.6L185.4 157.1L185.5 156.6L185.6 156.2L185.7 155.7L185.8 155.2L185.9 154.7L186.0 154.2L186.1 153.7L186.2 153.2L186.2 152.7L186.3 152.2L186.4 151.7L186.4 151.2L186.5 150.7L186.6 150.2L186.6 149.7L186.7 149.2L186.7 148.7L186.8 148.2L186.9 147.7L186.9 147.2L187.0 146.7L187.1 146.2L187.1 145.7L187.2 145.2L187.3 144.7L187.3 144.2L187.4 143.7L187.4 143.2L187.5 142.7L187.6 142.3L187.6 141.8L187.7 141.3L187.8 140.8L187.9 140.3L187.9 139.8L188.0 139.3L188.1 138.8L188.2 138.3L188.3 137.8L188.4 137.3L188.5 136.8L188.7 136.4L188.8 135.9L189.0 135.4L189.2 134.9L189.3 134.5L189.5 134.0L189.7 133.5L189.8 133.0L190.0 132.5L190.2 132.1L190.3 131.6L190.4 131.1L190.5 130.6L190.6 130.1L190.7 129.6L190.8 129.1L190.8 128.7L190.9 128.2L191.0 127.7L191.1 127.2L191.1 126.7L191.2 126.2L191.2 125.7L191.3 125.2L191.4 124.7L191.4 124.2L191.5 123.7L191.5 123.2L191.6 122.7L191.7 122.2L191.7 121.7L191.8 121.2L191.8 120.7L191.9 120.2L192.0 119.7L192.0 119.2L192.1 118.7L192.1 118.2L192.2 117.7L192.2 117.2L192.3 116.7L192.4 116.2L192.4 115.7L192.5 115.2L192.6 114.7L192.6 114.2L192.7 113.7L192.8 113.2L192.9 112.7L192.9 112.2L193.0 111.7L193.1 111.2L193.2 110.7L193.3 110.3L193.4 109.8L193.5 109.3L193.6 108.8L193.7 108.3L193.8 107.8L193.9 107.3L194.0 106.8L194.1 106.3L194.2 105.8L194.3 105.3L194.4 104.8L194.5 104.4L194.6 103.9L194.7 103.4L194.9 102.9L195.0 102.4L195.1 101.9L195.2 101.4L195.3 100.9L195.4 100.4L195.5 100.0L195.6 99.5L195.7 99.0L195.8 98.5L195.9 98.0L196.0 97.5L196.1 97.0L196.2 96.5L196.3 96.0L196.5 95.5L196.6 95.1L196.7 94.6L196.8 94.1L196.9 93.6L197.0 93.1L197.1 92.6L197.2 92.1L197.4 91.6L197.5 91.1L197.6 90.7L197.7 90.2L197.8 89.7L198.0 89.2L198.1 88.7L198.2 88.2L198.3 87.7L198.5 87.3L198.6 86.8L198.7 86.3L198.9 85.8L199.0 85.3L199.1 84.8L199.3 84.4L199.4 83.9L199.5 83.4L199.7 82.9L199.8 82.4L200.0 82.0L200.1 81.5L200.3 81.0L200.4 80.5L200.6 80.0L200.7 79.6L200.9 79.1L201.0 78.6L201.1 78.1L201.3 77.6L201.4 77.2L201.6 76.7L201.7 76.2L201.9 75.7L202.0 75.2L202.2 74.8L202.3 74.3L202.5 73.8L202.6 73.3L202.7 72.8L202.9 72.4L203.0 71.9L203.2 71.4L203.3 70.9L203.4 70.4L203.6 69.9L203.7 69.5L203.8 69.0L204.0 68.5L204.1 68.0L204.2 67.5L204.4 67.0L204.5 66.6L204.7 66.1L204.8 65.6L205.0 65.1L205.1 64.7L205.3 64.2L205.5 63.7L205.7 63.2L205.8 62.8L206.0 62.3L206.2 61.8L206.4 61.4L206.6 60.9L206.8 60.4L207.0 60.0L207.2 59.5L207.4 59.1L207.6 58.6L207.8 58.2L208.0 57.7L208.2 57.3L208.5 56.8L208.7 56.4L208.9 55.9L209.2 55.5L209.4 55.0L209.6 54.6L209.8 54.1L210.0 53.7L210.2 53.2L210.4 52.8L210.6 52.3L210.8 51.8L211.0 51.4L211.2 50.9L211.4 50.5L211.7 50.0L211.9 49.6L212.1 49.1L212.3 48.7L212.5 48.2L212.8 47.8L213.0 47.3L213.2 46.9L213.5 46.4L213.7 46.0L214.0 45.6L214.2 45.1L214.4 44.7L214.7 44.2L214.9 43.8L215.2 43.4L215.4 42.9L215.7 42.5L216.0 42.1L216.2 41.6L216.5 41.2L216.7 40.8L217.0 40.4L217.2 39.9L217.5 39.5L217.8 39.1L218.0 38.6L218.3 38.2L218.5 37.8L218.8 37.3L219.0 36.9L219.3 36.5L219.5 36.0L219.8 35.6L220.1 35.2L220.3 34.8L220.6 34.3L220.9 33.9L221.1 33.5L221.4 33.0L221.7 32.6L221.9 32.2L222.2 31.8L222.5 31.3L222.7 30.9L223.0 30.5L223.3 30.1L223.6 29.7L223.9 29.3L224.2 28.9L224.5 28.5L224.8 28.1L225.1 27.7L225.5 27.3L225.8 27.0L226.1 26.6L226.5 26.2L226.8 25.8L227.1 25.5L227.5 25.1L227.8 24.8L228.2 24.4L228.6 24.0L228.9 23.7L229.3 23.3L229.6 23.0L230.0 22.6L230.4 22.3L230.7 21.9L231.1 21.6L231.5 21.3L231.9 20.9L232.3 20.7L232.7 20.4L233.1 20.1L233.5 19.9L234.0 19.7L234.4 19.4L234.8 19.2L235.3 19.0L235.7 18.8L236.2 18.5L236.6 18.3L237.1 18.1L237.6 17.9L238.0 17.7L238.5 17.5L239.0 17.4L239.5 17.2L240.0 17.0L240.4 16.8L240.9 16.7L241.4 16.5L241.9 16.4L242.4 16.2L242.9 16.1L243.4 16.0L243.9 15.9L244.3 15.7L244.8 15.6L245.3 15.5L245.8 15.4L246.3 15.3L246.8 15.2L247.3 15.1L247.8 15.0L248.3 15.0L248.8 14.9L249.3 14.8L249.8 14.8L250.3 14.7L250.8 14.7L251.3 14.7L251.8 14.7L252.3 14.7L252.8 14.8L253.3 14.8L253.8 14.9L254.3 14.9L254.8 15.0L255.3 15.0L255.8 15.1L256.3 15.2L256.7 15.3L257.2 15.4L257.7 15.6L258.1 15.8L258.6 16.0L259.0 16.3L259.5 16.5L259.9 16.8L260.4 17.0L260.8 17.3L261.3 17.5L261.7 17.7L262.2 18.0L262.6 18.2L263.0 18.5L263.5 18.7L263.9 19.0L264.3 19.2L264.8 19.5L265.2 19.8L265.6 20.1L266.0 20.4L266.4 20.6L266.8 21.0L267.2 21.3L267.6 21.6L267.9 21.9L268.3 22.3L268.7 22.6L269.0 23.0L269.4 23.3L269.7 23.7L270.1 24.0L270.5 24.4L270.8 24.7L271.2 25.1L271.5 25.4L271.9 25.8L272.3 26.1L272.6 26.5L273.0 26.8L273.3 27.2L273.7 27.5L274.0 27.9L274.4 28.3L274.7 28.6L275.1 29.0L275.4 29.4L275.8 29.7L276.1 30.1L276.4 30.5L276.8 30.8L277.1 31.2L277.5 31.6L277.8 31.9L278.1 32.3L278.5 32.7L278.8 33.1L279.1 33.5L279.4 33.8L279.8 34.2L280.1 34.6L280.4 35.0L280.7 35.4L281.0 35.8L281.3 36.2L281.6 36.6L281.9 37.0L282.2 37.4L282.5 37.8L282.8 38.2L283.1 38.6L283.4 39.0L283.7 39.5L283.9 39.9L284.2 40.3L284.5 40.7L284.7 41.2L285.0 41.6L285.2 42.0L285.4 42.5L285.6 42.9L285.8 43.4L286.1 43.8L286.3 44.3L286.5 44.8L286.7 45.2L286.9 45.7L287.1 46.1L287.3 46.6L287.6 47.0L287.8 47.5L288.0 47.9L288.3 48.3L288.5 48.8L288.8 49.2L289.0 49.6L289.3 50.1L289.5 50.5L289.7 51.0L290.0 51.4L290.2 51.9L290.4 52.3L290.6 52.8L290.8 53.2L291.1 53.7L291.3 54.1L291.5 54.6L291.7 55.0L291.9 55.5L292.1 56.0L292.3 56.4L292.5 56.9L292.7 57.4L292.8 57.8L293.0 58.3L293.2 58.8L293.4 59.2L293.6 59.7L293.7 60.2L293.9 60.6L294.1 61.1L294.2 61.6L294.4 62.1L294.5 62.5L294.7 63.0L294.8 63.5L295.0 64.0L295.1 64.4L295.3 64.9L295.4 65.4L295.6 65.9L295.7 66.4L295.9 66.9L296.0 67.3L296.1 67.8L296.3 68.3L296.4 68.8L296.6 69.3L296.7 69.7L296.9 70.2L297.0 70.7L297.2 71.2L297.3 71.7L297.5 72.1L297.6 72.6L297.8 73.1L297.9 73.6L298.1 74.0L298.2 74.5L298.4 75.0L298.6 75.5L298.7 75.9L298.9 76.4L299.0 76.9L299.1 77.4L299.3 77.9L299.4 78.3L299.6 78.8L299.7 79.3L299.9 79.8L300.0 80.3L300.2 80.7L300.3 81.2L300.4 81.7L300.6 82.2L300.7 82.7L300.9 83.2L301.0 83.6L301.1 84.1L301.3 84.6L301.4 85.1L301.5 85.6L301.7 86.1L301.8 86.5L301.9 87.0L302.0 87.5L302.2 88.0L302.3 88.5L302.4 89.0L302.5 89.5L302.7 89.9L302.8 90.4L302.9 90.9L303.0 91.4L303.1 91.9L303.3 92.4L303.4 92.9L303.5 93.4L303.6 93.8L303.7 94.3L303.8 94.8L303.9 95.3L304.0 95.8L304.1 96.3L304.2 96.8L304.3 97.3L304.5 97.8L304.6 98.3L304.7 98.7L304.8 99.2L305.0 99.7L305.2 100.2L305.4 100.6L305.6 101.1L305.8 101.5L306.0 102.0L306.2 102.5L306.3 102.9L306.5 103.4L306.6 103.9L306.7 104.4L306.8 104.9L306.9 105.3L307.0 105.8L307.1 106.3L307.2 106.8L307.3 107.3L307.4 107.8L307.5 108.3L307.6 108.8L307.7 109.3L307.8 109.8L307.8 110.3L307.9 110.8L308.0 111.3L308.1 111.8L308.1 112.3L308.2 112.8L308.3 113.3L308.3 113.8L308.4 114.3L308.5 114.8L308.6 115.3L308.6 115.8L308.7 116.3L308.8 116.8L308.9 117.3L309.0 117.7L309.0 118.2L309.1 118.7L309.2 119.2L309.3 119.7L309.4 120.2L309.5 120.7L309.5 121.2L309.6 121.7L309.7 122.2L309.8 122.7L309.9 123.2L309.9 123.7L310.0 124.2L310.1 124.7L310.2 125.2L310.3 125.7L310.3 126.2L310.4 126.7L310.5 127.1L310.6 127.6L310.7 128.1L310.8 128.6L310.9 129.1L310.9 129.6L311.0 130.1L311.1 130.6L311.2 131.1L311.3 131.6L311.3 132.1L311.4 132.6L311.5 133.1L311.6 133.6L311.7 134.1L311.8 134.6L311.9 135.1L312.1 135.5L312.2 136.0L312.4 136.5L312.5 136.9L312.8 137.4L313.0 137.8L313.2 138.3L313.5 138.7L313.7 139.2L314.0 139.6L314.0 139.6L314.3 139.2L314.7 138.9L315.0 138.5L315.3 138.1L315.6 137.7L316.0 137.3L316.3 136.9L316.6 136.5L316.9 136.1L317.2 135.7L317.4 135.2L317.6 134.8L317.7 134.3L317.9 133.9L318.0 133.4L318.2 132.9L318.3 132.4L318.4 131.9L318.5 131.4L318.6 130.9L318.7 130.4L318.8 129.9L318.9 129.4L319.1 128.9L319.2 128.4L319.3 128.0L319.5 127.5L319.6 127.0L319.7 126.5L319.8 126.0L320.0 125.5L320.1 125.1L320.2 124.6L320.4 124.1L320.5 123.6L320.6 123.1L320.8 122.6L320.9 122.1L321.0 121.7L321.2 121.2L321.3 120.7L321.5 120.2L321.6 119.7L321.7 119.3L321.9 118.8L322.0 118.3L322.2 117.8L322.3 117.3L322.4 116.8L322.6 116.4L322.7 115.9L322.9 115.4L323.0 114.9L323.1 114.4L323.3 114.0L323.4 113.5L323.6 113.0L323.7 112.5L323.9 112.0L324.0 111.5L324.1 111.1L324.3 110.6L324.4 110.1L324.6 109.6L324.7 109.1L324.9 108.7L325.0 108.2L325.1 107.7L325.3 107.2L325.4 106.7L325.6 106.2L325.7 105.8L325.9 105.3L326.0 104.8L326.1 104.3L326.3 103.8L326.4 103.3L326.6 102.9L326.7 102.4L326.9 101.9L327.1 101.4L327.2 101.0L327.4 100.5L327.6 100.1L327.8 99.6L328.0 99.1L328.3 98.7L328.5 98.2L328.8 97.8L329.0 97.4L329.3 96.9L329.5 96.5L329.8 96.1L330.1 95.6L330.3 95.2L330.6 94.8L330.9 94.4L331.2 94.0L331.5 93.6L331.8 93.2L332.2 92.8L332.5 92.4L332.8 92.0L333.2 91.7L333.5 91.3L333.9 91.0L334.2 90.6L334.6 90.3L335.0 90.0L335.4 89.7L335.8 89.4L336.2 89.1L336.6 88.8L337.1 88.5L337.5 88.2L337.9 88.0L338.4 87.7L338.8 87.5L339.2 87.3L339.7 87.1L340.1 86.9L340.6 86.7L341.1 86.5L341.6 86.3L342.0 86.1L342.5 86.0L343.0 85.8L343.5 85.7L344.0 85.6L344.5 85.5L345.0 85.4L345.4 85.3L345.9 85.2L346.4 85.2L346.9 85.1L347.4 85.0L348.0 85.0L348.5 84.9L349.0 84.9L349.5 84.9L350.0 84.9L350.5 84.9L351.0 84.9L351.5 84.9L352.0 85.0L352.5 85.0L353.0 85.0L353.4 85.1L353.9 85.2L354.3 85.3L354.8 85.5L355.2 85.8L355.6 86.1L356.0 86.4L356.4 86.7L356.8 87.1L357.2 87.4L357.6 87.8L358.1 88.2L358.5 88.5L358.9 88.8L359.3 89.1L359.7 89.4L360.1 89.7L360.5 90.1L360.8 90.4L361.2 90.7L361.6 91.0L362.0 91.3L362.4 91.6L362.8 92.0L363.2 92.3L363.6 92.6L363.9 92.9L364.3 93.3L364.7 93.6L365.1 93.9L365.4 94.3L365.8 94.6L366.2 94.9L366.6 95.3L366.9 95.6L367.3 96.0L367.6 96.3L368.0 96.7L368.3 97.1L368.7 97.4L369.0 97.8L369.3 98.2L369.7 98.6L370.0 98.9L370.3 99.3L370.7 99.7L371.0 100.1L371.3 100.5L371.6 100.9L372.0 101.2L372.3 101.6L372.7 102.0L373.0 102.3L373.4 102.7L373.8 103.0L374.1 103.3L374.5 103.6L374.9 103.9L375.3 104.2L375.7 104.5L376.1 104.9L376.5 105.2L376.9 105.5L377.3 105.9L377.6 106.2L377.9 106.6L378.3 107.0L378.6 107.3L378.9 107.7L379.2 108.1L379.5 108.5L379.8 108.9L380.1 109.3L380.4 109.8L380.7 110.2L381.0 110.6L381.3 111.0L381.6 111.4L381.9 111.8L382.2 112.2L382.5 112.6L382.8 113.0L383.1 113.4L383.5 113.7L383.8 114.1L384.1 114.5L384.4 114.9L384.7 115.3L385.1 115.7L385.4 116.1L385.7 116.5L386.0 116.8L386.3 117.2L386.7 117.6L387.0 118.0L387.3 118.4L387.7 118.8L388.0 119.1L388.3 119.5L388.7 119.9L389.0 120.2L389.4 120.6L389.7 120.9L390.1 121.3L390.5 121.6L390.8 122.0L391.2 122.3L391.5 122.7L391.9 123.1L392.2 123.4L392.5 123.8L392.8 124.2L393.2 124.6L393.5 125.0L393.8 125.4L394.1 125.8L394.4 126.2L394.7 126.6L395.0 126.9L395.4 127.3L395.7 127.7L396.1 128.0L396.4 128.4L396.8 128.7L397.2 129.1L397.6 129.4L397.9 129.7L398.3 130.1L398.7 130.4L399.1 130.8L399.5 131.1L399.9 131.4L400.3 131.7L400.7 132.0L401.1 132.2L401.6 132.4L402.0 132.7L402.5 132.9L402.9 133.1L403.4 133.3L403.9 133.5L404.3 133.7L404.8 133.9L405.3 134.0L405.8 134.1L406.3 134.1L406.8 134.1L407.3 134.1L407.8 134.1L408.3 134.1L408.8 134.1L409.3 134.1L409.8 134.0L410.3 134.0L410.8 134.0L411.3 134.0L411.8 134.0L412.3 133.9L412.8 133.8L413.2 133.6L413.7 133.4L414.2 133.2L414.6 133.0L415.1 132.8L415.6 132.5L416.0 132.3L416.5 132.1L416.9 131.8L417.4 131.6L417.8 131.4L418.3 131.2L418.7 130.9L419.2 130.7L419.6 130.5L420.1 130.2L420.5 130.0L420.9 129.7L421.4 129.4L421.8 129.2L422.2 128.9L422.7 128.7L423.1 128.4L423.5 128.2L424.0 127.9L424.4 127.7L424.8 127.4L425.3 127.2L425.7 126.9L426.2 126.7L426.6 126.4L427.0 126.2L427.5 125.9L427.9 125.7L428.3 125.4L428.8 125.2L429.2 124.9L429.6 124.7L430.1 124.4L430.5 124.2L430.9 123.9L431.4 123.7L431.8 123.4L432.2 123.1L432.7 122.9L433.1 122.6L433.5 122.4L434.0 122.1L434.4 121.8L434.8 121.6L435.2 121.3L435.7 121.1L436.1 120.8L436.6 120.6L437.0 120.4L437.5 120.1L437.9 119.9L438.4 119.7L438.8 119.5L439.3 119.3L439.7 119.0L440.2 118.8L440.6 118.6L441.1 118.4L441.5 118.2L442.0 118.0"/></defs>
<use href="#rp" fill="none" stroke="#fff" stroke-opacity=".7" stroke-width="4.4" stroke-dasharray="12 2.5 5.5 2.5" stroke-linejoin="round"/>
<use href="#rp" fill="none" stroke="#f00" stroke-width="2.9" stroke-dasharray="12 2.5 5.5 2.5" stroke-linejoin="round"/>
<path d="M36.5 113.8L37.0 113.9L37.5 114.1L37.9 114.2L38.4 114.4L38.9 114.6L39.4 114.7L39.9 114.9L40.4 115.0L40.8 115.2L41.3 115.3L41.8 115.4L42.3 115.5L42.8 115.7L43.3 115.8L43.8 115.9L44.2 116.0L44.7 116.1L45.2 116.1L45.7 116.2L46.2 116.3L46.7 116.3L47.2 116.4L47.7 116.4L48.2 116.5L48.7 116.5L49.2 116.6L49.7 116.7L50.2 116.7L50.7 116.8L51.2 116.8L51.7 116.8L52.2 116.9L52.7 116.9L53.2 117.0L53.7 117.0L54.2 117.0L54.7 117.1L55.2 117.1L55.7 117.1L56.2 117.2L56.7 117.2L57.2 117.2L57.7 117.2L58.2 117.3L58.7 117.3L59.2 117.3L59.7 117.3L60.2 117.3L60.7 117.3L61.2 117.3L61.7 117.3L62.2 117.3L62.8 117.3L63.3 117.3L63.8 117.3L64.3 117.3L64.8 117.3L65.3 117.2L65.8 117.2L66.3 117.2L66.8 117.2L67.3 117.2L67.8 117.2L68.3 117.2L68.8 117.1L69.3 117.1L69.8 117.1L70.3 117.1L70.8 117.1L71.3 117.1L71.8 117.1L72.3 117.0L72.8 117.0L73.3 117.0L73.8 117.0L74.3 117.0L74.8 117.0L75.3 117.0L75.8 117.0L76.3 117.0L76.8 117.0L77.3 117.0L77.8 117.1L78.3 117.1L78.8 117.2L79.3 117.3L79.8 117.3L80.3 117.4L80.8 117.5L81.3 117.6L81.8 117.7L82.3 117.8L82.8 118.0L83.3 118.1L83.8 118.2L84.3 118.3L84.7 118.4L85.2 118.6L85.7 118.7L86.2 118.8L86.7 118.9L87.1 119.1L87.6 119.2L88.1 119.4L88.5 119.6L89.0 119.7L89.5 119.9L89.9 120.1L90.4 120.3L90.9 120.5L91.3 120.7L91.8 121.0L92.2 121.2L92.7 121.4L93.2 121.6L93.6 121.8L94.1 122.1L94.5 122.3L95.0 122.5L95.4 122.7L95.9 122.9L96.3 123.2L96.8 123.4L97.3 123.6L97.8 123.8L98.2 124.0L98.7 124.2L99.1 124.4L99.5 124.7L99.9 125.0L100.3 125.2L100.7 125.6L101.0 125.9L101.4 126.2L101.7 126.6L102.0 127.0L102.3 127.4L102.6 127.8L102.9 128.2L103.2 128.7L103.5 129.1L103.8 129.5L104.1 130.0L104.4 130.4L104.7 130.8L105.0 131.2L105.3 131.6L105.6 132.0L105.9 132.4L106.1 132.8L106.4 133.2L106.7 133.7L107.0 134.1L107.3 134.5L107.6 134.9L107.9 135.3L108.2 135.7L108.4 136.1L108.7 136.6L109.0 137.0L109.3 137.4L109.5 137.8L109.8 138.3L110.0 138.7L110.3 139.1L110.5 139.6L110.8 140.0L111.0 140.5L111.2 140.9L111.5 141.3L111.7 141.8L111.9 142.2L112.1 142.7L112.3 143.2L112.5 143.6L112.8 144.1L113.0 144.5L113.2 145.0L113.4 145.4L113.6 145.9L113.8 146.3L114.0 146.8L114.3 147.2L114.5 147.7L114.7 148.2L114.9 148.6L115.2 149.1L115.4 149.5L115.6 150.0L115.8 150.4L116.0 150.9L116.2 151.3L116.3 151.8L116.5 152.3L116.6 152.8L116.8 153.2L116.9 153.7L117.0 154.2L117.2 154.7L117.3 155.2L117.4 155.7L117.5 156.2L117.6 156.6L117.7 157.1L117.8 157.6L117.9 158.1L118.1 158.6L118.2 159.1L118.3 159.6L118.4 160.1L118.5 160.6L118.6 161.1L118.7 161.6L118.8 162.1L119.0 162.5L119.1 163.0L119.2 163.5L119.4 164.0L119.5 164.5L119.6 165.0L119.8 165.5L119.9 165.9L120.1 166.4L120.2 166.9L120.4 167.4L120.5 167.9L120.7 168.3L120.8 168.8L120.9 169.3L121.1 169.8L121.2 170.3L121.4 170.8L121.5 171.2L121.6 171.7L121.8 172.2L121.9 172.7L122.0 173.2L122.1 173.7L122.2 174.2L122.3 174.6L122.4 175.1L122.5 175.6L122.6 176.1L122.7 176.6L122.8 177.1L122.9 177.6L123.0 178.1L123.1 178.6L123.1 179.1L123.2 179.6L123.3 180.1L123.4 180.6L123.5 181.1L123.5 181.6L123.6 182.1L123.7 182.6L123.8 183.1L123.8 183.6L123.9 184.1L124.0 184.5L124.0 185.0L124.1 185.5L124.1 186.0L124.2 186.5L124.3 187.0L124.3 187.5L124.4 188.0L124.4 188.5L124.5 189.0L124.6 189.5L124.6 190.0L124.7 190.5L124.7 191.0L124.8 191.5L124.8 192.0L124.9 192.5L125.0 193.0L125.0 193.5L125.1 194.0L125.1 194.5L125.2 195.0L125.2 195.5L125.3 196.0L125.3 196.5L125.4 197.0L125.4 197.5L125.5 198.0L125.5 198.5L125.6 199.0L125.6 199.5L125.7 200.0L125.7 200.5L125.8 201.0L125.8 201.5L125.9 202.0L125.9 202.5L126.0 203.0L126.0 203.5L126.1 204.0L126.1 204.5L126.2 205.0L126.2 205.5L126.3 206.0L126.3 206.5L126.4 207.0L126.4 207.5L126.5 208.0L126.5 208.5L126.6 209.0L126.6 209.5L126.7 210.0L126.7 210.5L126.8 211.0L126.8 211.5L126.9 212.0L126.9 212.5L127.0 213.0L127.0 213.5L127.0 214.0L127.1 214.5L127.1 215.0L127.2 215.5L127.2 216.0L127.3 216.5L127.3 217.0L127.4 217.5L127.4 218.0L127.5 218.5L127.5 219.0L127.6 219.5L127.6 220.0L127.7 220.5L127.7 221.0L127.8 221.5L127.8 222.0L127.9 222.5L127.9 223.0L128.0 223.5L128.0 224.0L128.1 224.5L128.1 225.0L128.2 225.5L128.2 226.0L128.3 226.5L128.3 227.0L128.4 227.5L128.4 228.0L128.5 228.5L128.5 229.0L128.6 229.5L128.6 230.0L128.7 230.5L128.7 231.0L128.8 231.5L128.8 232.0L128.9 232.5L128.9 233.0L128.9 233.0L128.9 232.5L129.0 232.0L129.0 231.5L129.1 231.0L129.1 230.5L129.2 230.0L129.2 229.5L129.3 229.0L129.3 228.5L129.4 228.0L129.4 227.5L129.5 227.0L129.5 226.5L129.6 226.0L129.6 225.5L129.7 225.0L129.7 224.5L129.8 224.0L129.8 223.5L129.9 223.0L129.9 222.5L130.0 222.0L130.0 221.5L130.1 221.0L130.1 220.5L130.2 220.0L130.2 219.5L130.3 219.0L130.3 218.5L130.4 218.0L130.4 217.5L130.5 217.0L130.5 216.5L130.6 216.0L130.6 215.5L130.7 215.0L130.7 214.5L130.8 214.0L130.8 213.5L130.8 213.0L130.9 212.5L130.9 212.0L131.0 211.5L131.0 211.0L131.1 210.5L131.1 210.0L131.2 209.5L131.2 209.0L131.3 208.5L131.3 208.0L131.4 207.5L131.4 207.0L131.5 206.5L131.5 206.0L131.6 205.5L131.6 205.0L131.6 204.5L131.7 204.0L131.7 203.5L131.8 203.0L131.8 202.5L131.9 202.0L131.9 201.5L132.0 201.0L132.0 200.5L132.1 200.0L132.1 199.5L132.2 199.0L132.2 198.6L132.3 198.1L132.4 197.6L132.4 197.1L132.5 196.6L132.5 196.1L132.6 195.6L132.7 195.1L132.7 194.6L132.8 194.1L132.8 193.6L132.9 193.1L133.0 192.6L133.0 192.1L133.1 191.6L133.2 191.1L133.3 190.6L133.3 190.1L133.4 189.6L133.5 189.1L133.5 188.6L133.6 188.1L133.7 187.6L133.8 187.1L133.8 186.6L133.9 186.1L134.0 185.6L134.0 185.1L134.1 184.6L134.2 184.1L134.3 183.6L134.3 183.1L134.4 182.6L134.5 182.1L134.5 181.7L134.6 181.2L134.7 180.7L134.7 180.2L134.8 179.7L134.9 179.2L134.9 178.7L135.0 178.2L135.1 177.7L135.2 177.2L135.2 176.7L135.3 176.2L135.4 175.7L135.4 175.2L135.5 174.7L135.6 174.2L135.7 173.7L135.7 173.2L135.8 172.7L135.9 172.2L136.0 171.7L136.0 171.2L136.1 170.7L136.2 170.2L136.3 169.7L136.4 169.2L136.5 168.8L136.5 168.3L136.6 167.8L136.7 167.3L136.8 166.8L136.9 166.3L137.0 165.8L137.1 165.3L137.2 164.8L137.3 164.3L137.4 163.8L137.5 163.3L137.5 162.8L137.6 162.3L137.7 161.8L137.9 161.4L138.0 160.9L138.1 160.4L138.2 159.9L138.3 159.4L138.4 158.9L138.5 158.4L138.6 157.9L138.7 157.4L138.9 157.0L139.0 156.5L139.1 156.0L139.2 155.5L139.4 155.0L139.5 154.5L139.6 154.0L139.8 153.6L139.9 153.1L140.0 152.6L140.2 152.1L140.3 151.6L140.5 151.2L140.6 150.7L140.7 150.2L140.9 149.7L141.0 149.2L141.2 148.8L141.3 148.3L141.5 147.8L141.7 147.3L141.8 146.8L142.0 146.4L142.1 145.9L142.3 145.4L142.5 144.9L142.6 144.5L142.8 144.0L143.0 143.5L143.1 143.1L143.3 142.6L143.5 142.1L143.7 141.7L143.9 141.2L144.0 140.7L144.2 140.3L144.4 139.8L144.6 139.3L144.8 138.9L145.0 138.4L145.2 137.9L145.4 137.5L145.6 137.0L145.8 136.5L146.0 136.1L146.1 135.6L146.3 135.1L146.5 134.7L146.7 134.2L146.8 133.7L147.0 133.2L147.1 132.8L147.3 132.3L147.5 131.8L147.6 131.3L147.8 130.9L147.9 130.4L148.1 129.9L148.2 129.4L148.4 129.0L148.6 128.5L148.8 128.0L149.0 127.6L149.2 127.1L149.4 126.7L149.6 126.2L149.8 125.7L150.0 125.3L150.2 124.9L150.5 124.4L150.7 124.0L151.0 123.5L151.2 123.1L151.5 122.7L151.8 122.2L152.1 121.8L152.3 121.4L152.6 121.0L152.9 120.6L153.2 120.2L153.5 119.8L153.8 119.4L154.1 119.0L154.5 118.6L154.8 118.2L155.1 117.9L155.5 117.5L155.9 117.2L156.2 116.8L156.6 116.5L157.0 116.2L157.4 115.9L157.9 115.6L158.3 115.4L158.7 115.1L159.2 114.9L159.6 114.7L160.1 114.5L160.6 114.3L161.1 114.2L161.6 114.0L162.1 113.9L162.6 113.8L163.0 113.7L163.5 113.7L164.0 113.7L164.5 113.8L165.0 114.0L165.4 114.2L165.9 114.4L166.4 114.7L166.8 115.0L167.3 115.3L167.7 115.6L168.1 115.9L168.5 116.2L168.8 116.5L169.2 116.8L169.5 117.2L169.8 117.6L170.1 118.0L170.3 118.5L170.6 118.9L170.9 119.4L171.1 119.8L171.4 120.2L171.6 120.7L171.9 121.1L172.1 121.6L172.3 122.0L172.6 122.5L172.8 122.9L173.0 123.4L173.2 123.8L173.4 124.3L173.6 124.7L173.8 125.2L174.0 125.7L174.2 126.1L174.4 126.6L174.5 127.1L174.7 127.5L174.9 128.0L175.1 128.5L175.2 129.0L175.4 129.4L175.6 129.9L175.7 130.4L175.9 130.9L176.0 131.3L176.2 131.8L176.3 132.3L176.5 132.8L176.6 133.2L176.8 133.7L176.9 134.2L177.1 134.7L177.2 135.2L177.4 135.6L177.5 136.1L177.7 136.6L177.8 137.1L178.0 137.6L178.2 138.0L178.3 138.5L178.5 139.0L178.6 139.5L178.8 139.9L178.9 140.4L179.0 140.9L179.2 141.4L179.3 141.9L179.4 142.4L179.5 142.9L179.6 143.3L179.7 143.8L179.8 144.3L179.9 144.8L180.0 145.3L180.0 145.8L180.1 146.3L180.2 146.8L180.3 147.3L180.4 147.8L180.5 148.3L180.5 148.8L180.6 149.3L180.7 149.8L180.8 150.3L180.8 150.8L180.9 151.3L181.0 151.8L181.1 152.3L181.1 152.8L181.2 153.2L181.3 153.7L181.4 154.2L181.4 154.7L181.5 155.2L181.6 155.7L181.6 156.2L181.7 156.7L181.8 157.2L181.8 157.7L181.9 158.2L182.0 158.7L182.1 159.2L182.1 159.7L182.2 160.2L182.3 160.7L182.3 161.2L182.4 161.7L182.5 162.2L182.5 162.7L182.6 163.2L182.7 163.7L182.7 164.2L182.8 164.7L182.8 165.2L182.9 165.7L183.0 166.2L183.0 166.7L183.1 167.2L183.1 167.7L183.2 168.2L183.2 168.7L183.3 169.2L183.3 169.7L183.4 170.2L183.5 170.7L183.5 171.2L183.6 171.7L183.6 172.2L183.7 172.7L183.8 173.2L183.8 173.7L183.9 174.1L183.9 174.6L184.0 175.1L184.1 175.6L184.1 176.1L184.2 176.6L184.3 177.1L184.3 177.6L184.4 178.1L184.5 178.6L184.5 179.1L184.6 179.6L184.6 180.1L184.7 180.6L184.8 181.1L184.8 181.6L184.9 182.1L185.0 182.6L185.0 183.1L185.1 183.6L185.1 183.6L185.2 183.1L185.3 182.6L185.4 182.1L185.5 181.6L185.6 181.1L185.7 180.7L185.8 180.2L185.9 179.7L186.0 179.2L186.0 178.7L186.1 178.2L186.2 177.7L186.2 177.2L186.3 176.7L186.4 176.2L186.4 175.7L186.5 175.2L186.5 174.7L186.6 174.2L186.6 173.7L186.7 173.2L186.7 172.7L186.8 172.2L186.8 171.7L186.9 171.2L186.9 170.7L187.0 170.2L187.1 169.7L187.1 169.2L187.2 168.7L187.3 168.2L187.4 167.7L187.5 167.2L187.6 166.7L187.6 166.3L187.7 165.8L187.8 165.3L187.8 164.8L187.9 164.3L187.9 163.8L188.0 163.3L188.0 162.8L188.1 162.3L188.1 161.8L188.2 161.3L188.2 160.8L188.3 160.3L188.3 159.8L188.4 159.3L188.4 158.8L188.4 158.3L188.5 157.8L188.5 157.3L188.5 156.8L188.6 156.3L188.6 155.8L188.6 155.3L188.7 154.8L188.7 154.3L188.7 153.8L188.8 153.3L188.8 152.8L188.9 152.3L188.9 151.8L188.9 151.3L189.0 150.8L189.0 150.3L189.0 149.8L189.1 149.3L189.1 148.8L189.2 148.3L189.2 147.8L189.2 147.3L189.3 146.8L189.3 146.3L189.3 145.8L189.4 145.3L189.4 144.8L189.5 144.3L189.5 143.8L189.6 143.3L189.6 142.8L189.7 142.3L189.7 141.8L189.8 141.3L189.8 140.8L189.9 140.3L189.9 139.8L190.0 139.3L190.1 138.8L190.1 138.3L190.2 137.8L190.2 137.3L190.3 136.8L190.3 136.3L190.4 135.8L190.5 135.3L190.5 134.8L190.6 134.3L190.6 133.8L190.7 133.3L190.7 132.8L190.7 132.3L190.8 131.8L190.8 131.3L190.9 130.8L190.9 130.3L191.0 129.8L191.1 129.3L191.1 128.8L191.2 128.3L191.3 127.8L191.3 127.3L191.4 126.9L191.5 126.4L191.5 125.9L191.6 125.4L191.7 124.9L191.7 124.4L191.8 123.9L191.9 123.4L192.0 122.9L192.0 122.4L192.1 121.9L192.2 121.4L192.2 120.9L192.3 120.4L192.3 119.9L192.4 119.4L192.4 118.9L192.5 118.4L192.5 117.9L192.6 117.4L192.7 116.9L192.7 116.4L192.8 115.9L192.9 115.4L192.9 114.9L193.0 114.4L193.1 113.9L193.1 113.4L193.2 112.9L193.3 112.4L193.4 112.0L193.5 111.5L193.6 111.0L193.7 110.5L193.7 110.0L193.8 109.5L193.9 109.0L194.0 108.5L194.1 108.0L194.2 107.5L194.3 107.0L194.4 106.5L194.5 106.0L194.6 105.6L194.8 105.1L194.9 104.6L195.0 104.1L195.1 103.6L195.2 103.1L195.3 102.6L195.4 102.1L195.5 101.6L195.6 101.2L195.7 100.7L195.9 100.2L196.0 99.7L196.1 99.2L196.2 98.7L196.3 98.2L196.4 97.7L196.5 97.2L196.6 96.8L196.7 96.3L196.8 95.8L196.9 95.3L197.0 94.8L197.1 94.3L197.2 93.8L197.4 93.3L197.5 92.8L197.6 92.4L197.7 91.9L197.8 91.4L197.9 90.9L198.1 90.4L198.2 89.9L198.3 89.4L198.4 88.9L198.6 88.5L198.7 88.0L198.8 87.5L198.9 87.0L199.1 86.5L199.2 86.0L199.3 85.6L199.5 85.1L199.6 84.6L199.7 84.1L199.9 83.6L200.0 83.1L200.2 82.7L200.3 82.2L200.5 81.7L200.6 81.2L200.8 80.8L200.9 80.3L201.0 79.8L201.2 79.3L201.3 78.8L201.5 78.4L201.6 77.9L201.8 77.4L201.9 76.9L202.1 76.4L202.2 76.0L202.3 75.5L202.5 75.0L202.6 74.5L202.8 74.0L202.9 73.6L203.1 73.1L203.2 72.6L203.3 72.1L203.5 71.6L203.6 71.1L203.8 70.7L203.9 70.2L204.0 69.7L204.2 69.2L204.3 68.7L204.4 68.2L204.6 67.8L204.7 67.3L204.9 66.8L205.0 66.3L205.2 65.8L205.3 65.4L205.5 64.9L205.6 64.4L205.8 64.0L206.0 63.5L206.1 63.0L206.3 62.5L206.5 62.1L206.7 61.6L206.9 61.1L207.1 60.7L207.3 60.2L207.5 59.8L207.7 59.3L207.9 58.8L208.1 58.4L208.3 57.9L208.5 57.5L208.8 57.0L209.0 56.6L209.2 56.2L209.4 55.7L209.7 55.3L209.9 54.8L210.1 54.4L210.3 53.9L210.5 53.5L210.7 53.0L210.9 52.5L211.1 52.1L211.3 51.6L211.5 51.2L211.7 50.7L211.9 50.2L212.2 49.8L212.4 49.3L212.6 48.9L212.8 48.4L213.1 48.0L213.3 47.6L213.5 47.1L213.8 46.7L214.0 46.2L214.2 45.8L214.5 45.3L214.7 44.9L215.0 44.5L215.2 44.0L215.5 43.6L215.7 43.2L216.0 42.7L216.2 42.3L216.5 41.9L216.7 41.4L217.0 41.0L217.3 40.6L217.5 40.2L217.8 39.7L218.0 39.3L218.3 38.9L218.5 38.4L218.8 38.0L219.0 37.6L219.3 37.1L219.5 36.7L219.8 36.3L220.1 35.8L220.3 35.4L220.6 35.0L220.8 34.6L221.1 34.1L221.4 33.7L221.6 33.3L221.9 32.9L222.2 32.4L222.4 32.0L222.7 31.6L223.0 31.2L223.3 30.7L223.5 30.3L223.8 29.9L224.1 29.5L224.4 29.1L224.7 28.7L225.0 28.3L225.3 27.9L225.7 27.6L226.0 27.2L226.3 26.8L226.7 26.4L227.0 26.0L227.3 25.7L227.7 25.3L228.0 25.0L228.4 24.6L228.8 24.2L229.1 23.9L229.5 23.5L229.8 23.2L230.2 22.8L230.6 22.5L230.9 22.2L231.3 21.8L231.7 21.5L232.1 21.2L232.5 20.9L232.9 20.6L233.3 20.3L233.7 20.0L234.1 19.7L234.5 19.5L235.0 19.2L235.4 19.0L235.9 18.7L236.3 18.5L236.8 18.3L237.2 18.1L237.7 17.9L238.2 17.7L238.6 17.6L239.1 17.4L239.6 17.2L240.0 17.1L240.5 16.9L241.0 16.8L241.5 16.6L242.0 16.5L242.5 16.4L243.0 16.3L243.5 16.2L244.0 16.1L244.5 16.0L245.0 16.0L245.4 15.9L245.9 15.9L246.4 15.9L246.9 15.8L247.4 15.8L247.9 15.8L248.5 15.7L249.0 15.7L249.5 15.7L250.0 15.7L250.5 15.7L251.0 15.7L251.5 15.7L252.0 15.7L252.5 15.8L253.0 15.8L253.5 15.8L254.0 15.9L254.5 15.9L255.0 16.0L255.5 16.0L256.0 16.1L256.5 16.1L256.9 16.2L257.4 16.4L257.9 16.5L258.3 16.7L258.8 17.0L259.2 17.2L259.7 17.5L260.1 17.7L260.6 18.0L261.0 18.2L261.4 18.5L261.9 18.7L262.3 19.0L262.8 19.2L263.2 19.5L263.6 19.7L264.1 20.0L264.5 20.2L264.9 20.5L265.3 20.8L265.7 21.1L266.1 21.4L266.5 21.7L266.9 22.0L267.3 22.3L267.7 22.6L268.1 22.9L268.4 23.3L268.8 23.6L269.2 24.0L269.5 24.3L269.9 24.7L270.3 25.0L270.6 25.4L271.0 25.7L271.4 26.1L271.7 26.4L272.1 26.7L272.4 27.1L272.8 27.4L273.2 27.8L273.5 28.2L273.9 28.5L274.2 28.9L274.6 29.2L274.9 29.6L275.3 29.9L275.6 30.3L276.0 30.7L276.3 31.0L276.7 31.4L277.0 31.7L277.3 32.1L277.7 32.5L278.0 32.8L278.4 33.2L278.7 33.6L279.0 34.0L279.4 34.3L279.7 34.7L280.0 35.1L280.4 35.5L280.7 35.8L281.0 36.2L281.3 36.6L281.6 37.0L282.0 37.4L282.3 37.8L282.6 38.2L282.9 38.6L283.2 39.0L283.5 39.4L283.8 39.8L284.1 40.2L284.4 40.6L284.6 41.0L284.9 41.5L285.2 41.9L285.4 42.3L285.6 42.8L285.9 43.2L286.1 43.6L286.3 44.1L286.6 44.5L286.8 45.0L287.0 45.4L287.3 45.9L287.5 46.3L287.8 46.8L288.0 47.2L288.3 47.6L288.5 48.1L288.8 48.5L289.0 48.9L289.3 49.3L289.5 49.8L289.8 50.2L290.0 50.6L290.3 51.1L290.5 51.5L290.7 52.0L291.0 52.4L291.2 52.9L291.4 53.3L291.7 53.8L291.9 54.2L292.1 54.7L292.3 55.1L292.5 55.6L292.8 56.0L293.0 56.5L293.2 56.9L293.4 57.4L293.6 57.8L293.8 58.3L294.0 58.7L294.2 59.2L294.5 59.6L294.7 60.1L294.9 60.6L295.1 61.0L295.3 61.5L295.5 61.9L295.7 62.4L295.9 62.8L296.1 63.3L296.3 63.7L296.5 64.2L296.7 64.7L296.9 65.1L297.1 65.6L297.3 66.0L297.5 66.5L297.7 67.0L297.8 67.4L298.0 67.9L298.2 68.4L298.3 68.9L298.5 69.3L298.7 69.8L298.8 70.3L299.0 70.8L299.2 71.2L299.3 71.7L299.5 72.2L299.6 72.7L299.8 73.1L299.9 73.6L300.1 74.1L300.2 74.6L300.4 75.1L300.6 75.5L300.7 76.0L300.9 76.5L301.0 77.0L301.2 77.4L301.3 77.9L301.5 78.4L301.7 78.9L301.8 79.3L302.0 79.8L302.2 80.3L302.3 80.8L302.5 81.2L302.6 81.7L302.8 82.2L302.9 82.7L303.1 83.1L303.2 83.6L303.4 84.1L303.5 84.6L303.7 85.1L303.8 85.5L303.9 86.0L304.0 86.5L304.2 87.0L304.3 87.5L304.4 88.0L304.5 88.5L304.6 88.9L304.7 89.4L304.9 89.9L305.0 90.4L305.1 90.9L305.2 91.4L305.3 91.9L305.5 92.4L305.6 92.8L305.7 93.3L305.8 93.8L306.0 94.3L306.1 94.8L306.2 95.3L306.3 95.8L306.5 96.2L306.6 96.7L306.7 97.2L306.9 97.7L307.0 98.2L307.2 98.6L307.3 99.1L307.5 99.6L307.6 100.1L307.8 100.5L308.0 101.0L308.2 101.5L308.4 101.9L308.6 102.4L308.8 102.9L309.0 103.3L309.2 103.8L309.4 104.2L309.5 104.7L309.7 105.2L309.9 105.7L310.0 106.1L310.1 106.6L310.3 107.1L310.4 107.6L310.5 108.1L310.6 108.5L310.7 109.0L310.9 109.5L311.0 110.0L311.1 110.5L311.2 111.0L311.3 111.5L311.4 112.0L311.5 112.5L311.6 113.0L311.7 113.4L311.8 113.9L311.9 114.4L312.0 114.9L312.1 115.4L312.2 115.9L312.3 116.4L312.4 116.9L312.5 117.4L312.6 117.9L312.6 118.4L312.7 118.9L312.8 119.4L312.9 119.9L313.0 120.4L313.1 120.9L313.2 121.3L313.3 121.8L313.3 122.3L313.4 122.8L313.5 123.3L313.6 123.8L313.7 124.3L313.7 124.8L313.8 125.3L313.9 125.8L314.0 126.3L314.0 126.8L314.1 127.3L314.2 127.8L314.3 128.3L314.3 128.8L314.4 129.3L314.5 129.8L314.6 130.3L314.7 130.8L314.7 131.2L314.8 131.7L314.9 132.2L315.0 132.7L315.1 133.2L315.2 133.7L315.2 134.2L315.3 134.7L315.4 135.2L315.5 135.7L315.6 136.2L315.7 136.7L315.8 137.2L315.9 137.7L316.0 138.2L316.1 138.7L316.2 139.1L316.3 139.6L316.4 140.1L316.5 140.6L316.6 141.1L316.8 141.6L316.9 142.0L317.1 142.5L317.2 143.0L317.4 143.5L317.6 143.9L317.7 144.4L317.9 144.9L318.1 145.3L318.3 145.8L318.5 146.3L318.7 146.7L318.9 147.2L318.9 147.2L319.1 146.7L319.3 146.3L319.5 145.8L319.7 145.4L319.9 144.9L320.1 144.5L320.3 144.0L320.5 143.5L320.7 143.1L320.9 142.6L321.1 142.2L321.4 141.7L321.6 141.2L321.8 140.8L322.0 140.3L322.2 139.9L322.4 139.4L322.6 138.9L322.8 138.5L323.0 138.0L323.2 137.6L323.4 137.1L323.6 136.6L323.8 136.2L324.0 135.7L324.1 135.2L324.3 134.8L324.5 134.3L324.7 133.8L324.8 133.3L325.0 132.9L325.1 132.4L325.3 131.9L325.4 131.4L325.6 130.9L325.7 130.5L325.8 130.0L326.0 129.5L326.2 129.0L326.3 128.6L326.5 128.1L326.7 127.6L326.8 127.1L327.0 126.7L327.2 126.2L327.4 125.7L327.6 125.3L327.8 124.8L328.0 124.4L328.2 123.9L328.4 123.4L328.6 123.0L328.9 122.5L329.1 122.1L329.3 121.6L329.5 121.2L329.8 120.7L330.0 120.3L330.2 119.9L330.5 119.4L330.7 119.0L331.0 118.5L331.3 118.1L331.5 117.7L331.8 117.2L332.1 116.8L332.4 116.4L332.7 116.0L333.0 115.6L333.3 115.2L333.6 114.9L334.0 114.5L334.4 114.2L334.8 113.9L335.2 113.6L335.6 113.3L336.0 113.0L336.4 112.6L336.7 112.3L337.1 112.0L337.5 111.6L337.9 111.3L338.3 111.0L338.7 110.7L339.2 110.5L339.6 110.3L340.0 110.1L340.5 109.9L341.0 109.7L341.5 109.6L342.0 109.4L342.5 109.2L343.0 109.1L343.5 109.0L344.0 108.9L344.4 108.9L344.9 108.9L345.4 108.9L345.9 109.0L346.4 109.1L346.9 109.2L347.4 109.3L347.9 109.4L348.4 109.5L348.9 109.6L349.4 109.7L349.8 109.9L350.3 110.1L350.8 110.3L351.3 110.5L351.7 110.7L352.2 111.0L352.6 111.2L353.1 111.4L353.5 111.7L353.9 111.9L354.4 112.2L354.8 112.4L355.2 112.7L355.7 113.0L356.1 113.2L356.5 113.5L356.9 113.8L357.3 114.2L357.7 114.5L358.1 114.8L358.5 115.1L358.8 115.5L359.2 115.8L359.5 116.1L359.9 116.5L360.2 116.9L360.5 117.3L360.8 117.7L361.1 118.1L361.3 118.5L361.6 119.0L361.9 119.4L362.2 119.8L362.5 120.2L362.7 120.7L363.0 121.1L363.3 121.5L363.5 121.9L363.8 122.4L364.1 122.8L364.3 123.2L364.6 123.6L364.8 124.1L365.1 124.5L365.4 124.9L365.7 125.3L366.0 125.8L366.3 126.2L366.6 126.6L366.9 126.9L367.2 127.4L367.5 127.8L367.7 128.2L367.9 128.6L368.2 129.1L368.4 129.6L368.6 130.0L368.8 130.5L369.0 130.9L369.2 131.4L369.5 131.8L369.7 132.3L369.9 132.7L370.2 133.1L370.4 133.6L370.6 134.0L370.8 134.5L371.1 134.9L371.3 135.4L371.5 135.8L371.7 136.3L371.9 136.7L372.2 137.2L372.4 137.7L372.6 138.1L372.8 138.6L373.0 139.0L373.2 139.5L373.4 139.9L373.6 140.4L373.8 140.8L374.1 141.3L374.3 141.8L374.5 142.2L374.7 142.7L374.9 143.1L375.1 143.6L375.3 144.1L375.5 144.5L375.7 145.0L375.9 145.4L376.1 145.9L376.3 146.4L376.5 146.8L376.7 147.3L376.9 147.8L377.1 148.2L377.2 148.7L377.4 149.1L377.6 149.6L377.8 150.1L378.0 150.5L378.2 151.0L378.4 151.5L378.6 151.9L378.8 152.4L378.9 152.9L379.1 153.3L379.3 153.8L379.5 154.3L379.6 154.8L379.8 155.2L380.0 155.7L380.2 156.2L380.3 156.6L380.5 157.1L380.7 157.6L380.9 158.0L381.1 158.5L381.2 159.0L381.4 159.4L381.6 159.9L381.8 160.4L382.0 160.8L382.2 161.3L382.4 161.7L382.6 162.2L382.8 162.7L383.1 163.1L383.3 163.6L383.5 164.0L383.7 164.5L383.8 165.0L384.0 165.4L384.2 165.9L384.4 166.4L384.6 166.8L384.7 167.3L384.9 167.8L385.1 168.3L385.3 168.7L385.4 169.2L385.6 169.7L385.8 170.1L385.9 170.6L386.1 171.1L386.2 171.6L386.4 172.0L386.6 172.5L386.7 173.0L386.9 173.5L387.1 173.9L387.3 174.4L387.4 174.9L387.6 175.4L387.8 175.8L388.0 176.3L388.1 176.8L388.3 177.2L388.5 177.7L388.7 178.2L388.8 178.7L389.0 179.1L389.2 179.6L389.4 180.0L389.6 180.5L389.8 181.0L390.0 181.4L390.3 181.9L390.5 182.3L390.7 182.8L391.0 183.2L391.3 183.6L391.6 184.0L392.0 184.3L392.4 184.6L392.8 184.9L392.8 184.9L393.2 184.6L393.6 184.3L394.0 184.0L394.4 183.6L394.7 183.2L395.0 182.8L395.3 182.4L395.5 182.0L395.8 181.6L396.1 181.1L396.3 180.7L396.6 180.2L396.8 179.8L397.1 179.4L397.3 178.9L397.5 178.5L397.7 178.0L397.9 177.5L398.2 177.1L398.4 176.6L398.6 176.2L398.8 175.7L399.0 175.3L399.3 174.8L399.5 174.3L399.7 173.9L399.9 173.4L400.2 173.0L400.4 172.5L400.6 172.1L400.9 171.6L401.1 171.2L401.3 170.7L401.5 170.3L401.8 169.8L402.0 169.4L402.2 168.9L402.4 168.5L402.7 168.0L402.9 167.6L403.1 167.1L403.3 166.7L403.5 166.2L403.7 165.7L403.9 165.3L404.1 164.8L404.3 164.3L404.5 163.9L404.7 163.4L404.9 162.9L405.1 162.5L405.3 162.0L405.4 161.5L405.7 161.1L405.9 160.6L406.1 160.2L406.3 159.7L406.5 159.3L406.8 158.8L407.0 158.4L407.3 157.9L407.5 157.5L407.8 157.1L408.1 156.6L408.3 156.2L408.6 155.8L408.9 155.4L409.1 154.9L409.4 154.5L409.7 154.1L409.9 153.6L410.2 153.2L410.5 152.8L410.7 152.3L411.0 151.9L411.3 151.5L411.5 151.1L411.8 150.6L412.1 150.2L412.4 149.8L412.6 149.4L412.9 149.0L413.2 148.5L413.5 148.1L413.8 147.7L414.1 147.3L414.4 146.9L414.6 146.5L414.9 146.0L415.2 145.6L415.5 145.2L415.8 144.8L416.1 144.4L416.4 144.0L416.6 143.5L416.9 143.1L417.2 142.7L417.5 142.3L417.7 141.8L418.0 141.4L418.3 141.0L418.6 140.6L418.9 140.2L419.2 139.8L419.5 139.4L419.9 139.0L420.2 138.7L420.5 138.3L420.9 137.9L421.3 137.6L421.6 137.2L422.0 136.9L422.4 136.5L422.7 136.2L423.1 135.8L423.5 135.5L423.9 135.2L424.2 134.8L424.6 134.5L425.0 134.2L425.4 133.9L425.8 133.6L426.2 133.3L426.7 133.0L427.1 132.7L427.5 132.4L427.9 132.1L428.3 131.8L428.7 131.5L429.1 131.3L429.6 131.0L430.0 130.7L430.4 130.4L430.8 130.1L431.2 129.8L431.7 129.5L432.1 129.3L432.5 129.0L433.0 128.8L433.4 128.5L433.9 128.3L434.3 128.1L434.8 127.9L435.2 127.7L435.7 127.5L436.1 127.3L436.6 127.2L437.1 127.0L437.6 126.8L438.0 126.6L438.5 126.5L439.0 126.3L439.5 126.2L440.0 126.1L440.5 125.9L441.0 125.8L441.5 125.7L442.0 125.6" fill="none" stroke="#00ae00" stroke-width="2.75" stroke-linejoin="round"/>
<path d="M36.5 107.0L37.0 107.0L37.5 107.1L38.0 107.1L38.5 107.2L39.0 107.2L39.5 107.2L40.0 107.3L40.5 107.3L41.0 107.3L41.5 107.4L42.0 107.4L42.5 107.5L43.0 107.5L43.5 107.5L44.0 107.6L44.5 107.6L45.0 107.6L45.5 107.7L46.0 107.7L46.5 107.7L47.0 107.8L47.5 107.8L48.0 107.8L48.5 107.9L49.0 107.9L49.5 107.9L50.1 107.9L50.6 108.0L51.1 108.0L51.6 108.0L52.1 108.1L52.6 108.1L53.1 108.1L53.6 108.1L54.1 108.2L54.6 108.2L55.1 108.2L55.6 108.2L56.1 108.2L56.6 108.3L57.1 108.3L57.6 108.3L58.1 108.3L58.6 108.3L59.1 108.4L59.6 108.4L60.1 108.4L60.6 108.4L61.1 108.5L61.6 108.5L62.1 108.5L62.6 108.5L63.1 108.6L63.6 108.6L64.1 108.6L64.6 108.7L65.1 108.7L65.6 108.7L66.1 108.8L66.6 108.8L67.1 108.8L67.6 108.9L68.1 108.9L68.6 109.0L69.1 109.0L69.7 109.1L70.2 109.1L70.7 109.2L71.2 109.3L71.7 109.3L72.2 109.4L72.7 109.5L73.2 109.5L73.7 109.6L74.2 109.7L74.7 109.8L75.2 109.9L75.7 109.9L76.2 110.0L76.6 110.1L77.1 110.2L77.6 110.3L78.1 110.4L78.6 110.5L79.1 110.6L79.5 110.8L80.0 110.9L80.5 111.1L81.0 111.2L81.4 111.4L81.9 111.6L82.4 111.8L82.9 112.0L83.3 112.2L83.8 112.4L84.3 112.6L84.7 112.9L85.2 113.1L85.6 113.3L86.1 113.6L86.5 113.8L87.0 114.1L87.4 114.3L87.8 114.6L88.2 114.8L88.7 115.1L89.1 115.4L89.5 115.6L89.9 115.9L90.3 116.2L90.7 116.5L91.1 116.8L91.4 117.1L91.8 117.5L92.2 117.8L92.6 118.1L93.0 118.5L93.3 118.8L93.7 119.2L94.1 119.5L94.4 119.9L94.8 120.2L95.2 120.6L95.5 120.9L95.9 121.3L96.3 121.6L96.6 122.0L97.0 122.4L97.4 122.7L97.7 123.1L98.1 123.4L98.5 123.7L98.9 124.1L99.2 124.4L99.6 124.7L100.0 125.1L100.4 125.4L100.7 125.8L101.0 126.2L101.3 126.6L101.6 127.0L101.9 127.4L102.2 127.8L102.4 128.2L102.7 128.6L103.0 129.1L103.2 129.5L103.5 129.9L103.7 130.4L104.0 130.8L104.2 131.3L104.5 131.7L104.7 132.2L104.9 132.6L105.2 133.1L105.4 133.5L105.7 134.0L105.9 134.4L106.2 134.8L106.4 135.3L106.6 135.7L106.9 136.2L107.1 136.6L107.3 137.1L107.6 137.5L107.8 138.0L108.0 138.4L108.2 138.9L108.5 139.3L108.7 139.8L108.9 140.2L109.1 140.7L109.3 141.2L109.5 141.6L109.7 142.1L109.9 142.5L110.1 143.0L110.3 143.5L110.5 143.9L110.7 144.4L110.8 144.9L111.0 145.3L111.2 145.8L111.4 146.3L111.5 146.8L111.7 147.2L111.8 147.7L112.0 148.2L112.1 148.7L112.2 149.2L112.3 149.7L112.4 150.2L112.5 150.7L112.7 151.1L112.8 151.6L112.9 152.1L113.1 152.6L113.2 153.1L113.4 153.5L113.6 154.0L113.7 154.5L113.9 155.0L114.1 155.4L114.3 155.9L114.5 156.4L114.6 156.8L114.8 157.3L115.0 157.8L115.2 158.2L115.4 158.7L115.5 159.2L115.7 159.7L115.9 160.1L116.0 160.6L116.2 161.1L116.3 161.6L116.5 162.1L116.6 162.5L116.8 163.0L116.9 163.5L117.1 164.0L117.2 164.5L117.3 165.0L117.5 165.4L117.6 165.9L117.8 166.4L117.9 166.9L118.1 167.4L118.2 167.9L118.4 168.3L118.5 168.8L118.7 169.3L118.8 169.8L119.0 170.2L119.1 170.7L119.3 171.2L119.5 171.7L119.6 172.2L119.8 172.7L119.9 173.1L120.1 173.6L120.3 174.1L120.4 174.6L120.6 175.1L120.8 175.5L121.0 176.0L121.2 176.5L121.4 176.9L121.6 177.4L121.8 177.8L122.0 178.3L122.2 178.7L122.5 179.1L122.8 179.5L123.1 179.9L123.4 180.3L123.7 180.7L124.1 181.1L124.4 181.4L124.8 181.8L124.8 181.8L125.0 181.3L125.2 180.9L125.4 180.4L125.6 179.9L125.8 179.5L125.9 179.0L126.1 178.5L126.3 178.1L126.4 177.6L126.6 177.1L126.7 176.6L126.9 176.1L127.0 175.7L127.1 175.2L127.2 174.7L127.3 174.2L127.4 173.7L127.5 173.2L127.6 172.7L127.7 172.2L127.8 171.7L127.9 171.2L128.0 170.7L128.1 170.2L128.2 169.7L128.3 169.2L128.4 168.8L128.5 168.3L128.6 167.8L128.7 167.3L128.8 166.8L129.0 166.3L129.1 165.8L129.2 165.3L129.3 164.8L129.4 164.4L129.6 163.9L129.7 163.4L129.8 162.9L129.9 162.4L130.1 161.9L130.2 161.4L130.3 161.0L130.4 160.5L130.6 160.0L130.7 159.5L130.8 159.0L130.9 158.5L131.0 158.0L131.1 157.5L131.3 157.0L131.4 156.6L131.5 156.1L131.6 155.6L131.7 155.1L131.8 154.6L132.0 154.1L132.1 153.6L132.2 153.1L132.3 152.6L132.4 152.2L132.6 151.7L132.7 151.2L132.8 150.7L132.9 150.2L133.1 149.7L133.2 149.2L133.3 148.8L133.4 148.3L133.6 147.8L133.7 147.3L133.8 146.8L134.0 146.3L134.1 145.8L134.2 145.4L134.4 144.9L134.5 144.4L134.7 143.9L134.8 143.4L135.0 143.0L135.1 142.5L135.2 142.0L135.4 141.5L135.5 141.0L135.7 140.6L135.9 140.1L136.0 139.6L136.2 139.1L136.3 138.6L136.5 138.2L136.6 137.7L136.8 137.2L137.0 136.7L137.1 136.3L137.3 135.8L137.5 135.3L137.6 134.8L137.8 134.4L138.0 133.9L138.2 133.4L138.3 133.0L138.5 132.5L138.7 132.0L138.9 131.6L139.1 131.1L139.2 130.6L139.4 130.1L139.6 129.7L139.8 129.2L140.0 128.7L140.2 128.3L140.4 127.8L140.5 127.3L140.7 126.9L140.9 126.4L141.1 126.0L141.3 125.5L141.5 125.0L141.7 124.6L141.9 124.1L142.1 123.7L142.4 123.2L142.6 122.8L142.8 122.3L143.0 121.9L143.2 121.4L143.5 121.0L143.7 120.5L143.9 120.1L144.2 119.6L144.4 119.2L144.7 118.7L144.9 118.3L145.2 117.9L145.4 117.4L145.7 117.0L146.0 116.6L146.2 116.2L146.5 115.7L146.8 115.3L147.1 114.9L147.3 114.5L147.6 114.1L147.9 113.6L148.2 113.2L148.5 112.8L148.8 112.3L149.1 111.9L149.4 111.5L149.7 111.1L150.0 110.7L150.3 110.3L150.7 109.9L151.0 109.5L151.4 109.2L151.7 108.8L152.1 108.5L152.4 108.2L152.8 107.9L153.2 107.7L153.6 107.4L154.0 107.1L154.5 106.8L154.9 106.5L155.4 106.3L155.8 106.0L156.3 105.8L156.8 105.5L157.3 105.3L157.8 105.1L158.2 104.9L158.7 104.8L159.2 104.7L159.7 104.6L160.2 104.6L160.6 104.6L161.1 104.7L161.6 104.7L162.0 104.9L162.5 105.0L163.0 105.2L163.5 105.4L164.0 105.6L164.5 105.8L164.9 106.0L165.4 106.3L165.9 106.6L166.3 106.8L166.7 107.1L167.2 107.3L167.6 107.6L168.0 107.9L168.4 108.2L168.8 108.5L169.1 108.9L169.5 109.3L169.8 109.6L170.1 110.0L170.4 110.4L170.7 110.8L171.0 111.2L171.3 111.7L171.6 112.1L171.8 112.5L172.1 113.0L172.3 113.4L172.6 113.8L172.8 114.3L173.0 114.7L173.3 115.2L173.5 115.6L173.7 116.1L173.9 116.5L174.1 117.0L174.3 117.5L174.5 117.9L174.7 118.4L174.9 118.9L175.1 119.3L175.2 119.8L175.4 120.3L175.6 120.7L175.8 121.2L176.0 121.7L176.2 122.1L176.4 122.6L176.5 123.1L176.7 123.6L176.8 124.0L177.0 124.5L177.1 125.0L177.2 125.5L177.3 126.0L177.4 126.5L177.5 127.0L177.6 127.5L177.7 127.9L177.8 128.4L177.9 128.9L178.0 129.4L178.1 129.9L178.1 130.4L178.2 130.9L178.3 131.4L178.4 131.9L178.5 132.4L178.6 132.9L178.7 133.4L178.8 133.9L178.9 134.4L179.0 134.9L179.0 135.4L179.1 135.9L179.2 136.4L179.3 136.9L179.4 137.4L179.4 137.8L179.5 138.3L179.6 138.8L179.7 139.3L179.7 139.8L179.8 140.3L179.9 140.8L180.0 141.3L180.0 141.8L180.1 142.3L180.2 142.8L180.2 143.3L180.3 143.8L180.4 144.3L180.4 144.8L180.5 145.3L180.6 145.8L180.6 146.3L180.7 146.8L180.8 147.3L180.8 147.8L180.9 148.3L180.9 148.8L181.0 149.3L181.1 149.8L181.1 150.3L181.2 150.8L181.3 151.3L181.3 151.8L181.4 152.3L181.4 152.8L181.5 153.3L181.6 153.8L181.6 154.3L181.7 154.8L181.7 155.3L181.8 155.8L181.9 156.3L181.9 156.8L182.0 157.3L182.1 157.8L182.1 158.3L182.2 158.8L182.3 159.3L182.3 159.8L182.4 160.3L182.5 160.8L182.5 161.3L182.6 161.8L182.7 162.3L182.7 162.8L182.8 163.3L182.9 163.7L182.9 164.2L183.0 164.7L183.1 165.2L183.1 165.7L183.2 166.2L183.2 166.7L183.2 167.2L183.3 167.7L183.3 168.2L183.4 168.7L183.4 169.2L183.5 169.7L183.5 170.2L183.6 170.7L183.6 171.2L183.7 171.7L183.7 172.2L183.8 172.7L183.8 173.2L183.9 173.7L184.0 174.2L184.0 174.7L184.1 175.2L184.2 175.7L184.2 176.2L184.3 176.7L184.4 177.2L184.4 177.7L184.5 178.2L184.6 178.7L184.6 179.2L184.7 179.7L184.8 180.2L184.8 180.7L184.9 181.2L185.0 181.7L185.1 182.2L185.1 182.7L185.2 183.2L185.2 183.2L185.3 182.7L185.4 182.2L185.5 181.7L185.6 181.2L185.7 180.7L185.8 180.3L185.9 179.8L186.0 179.3L186.0 178.8L186.1 178.3L186.2 177.8L186.2 177.3L186.3 176.8L186.3 176.3L186.4 175.8L186.4 175.3L186.5 174.8L186.5 174.3L186.6 173.8L186.6 173.3L186.7 172.8L186.7 172.3L186.8 171.8L186.9 171.3L186.9 170.8L187.0 170.3L187.1 169.8L187.1 169.3L187.2 168.8L187.3 168.3L187.4 167.8L187.5 167.3L187.5 166.9L187.6 166.4L187.7 165.9L187.7 165.4L187.8 164.9L187.9 164.4L187.9 163.9L188.0 163.4L188.0 162.9L188.1 162.4L188.1 161.9L188.2 161.4L188.2 160.9L188.3 160.4L188.3 159.9L188.4 159.4L188.4 158.9L188.4 158.4L188.5 157.9L188.5 157.4L188.5 156.9L188.6 156.4L188.6 155.9L188.6 155.4L188.7 154.9L188.7 154.4L188.7 153.9L188.8 153.4L188.8 152.9L188.8 152.4L188.9 151.9L188.9 151.4L189.0 150.9L189.0 150.4L189.0 149.9L189.1 149.4L189.1 148.9L189.1 148.4L189.2 147.9L189.2 147.4L189.2 146.9L189.3 146.4L189.3 145.9L189.4 145.4L189.4 144.9L189.5 144.4L189.5 143.9L189.6 143.4L189.6 142.9L189.7 142.4L189.7 141.9L189.8 141.4L189.8 140.9L189.9 140.4L190.0 139.9L190.0 139.4L190.1 138.9L190.2 138.4L190.3 137.9L190.3 137.5L190.4 137.0L190.5 136.5L190.6 136.0L190.6 135.5L190.7 135.0L190.7 134.5L190.8 134.0L190.9 133.5L190.9 133.0L190.9 132.5L191.0 132.0L191.0 131.5L191.1 131.0L191.1 130.5L191.2 130.0L191.2 129.5L191.3 129.0L191.4 128.5L191.4 128.0L191.5 127.5L191.6 127.0L191.6 126.5L191.7 126.0L191.8 125.5L191.9 125.0L191.9 124.5L192.0 124.0L192.1 123.5L192.1 123.0L192.2 122.5L192.3 122.1L192.3 121.6L192.4 121.1L192.4 120.6L192.5 120.1L192.6 119.6L192.6 119.1L192.7 118.6L192.7 118.1L192.8 117.6L192.8 117.1L192.9 116.6L193.0 116.1L193.0 115.6L193.1 115.1L193.2 114.6L193.2 114.1L193.3 113.6L193.4 113.1L193.5 112.6L193.6 112.1L193.6 111.6L193.7 111.1L193.8 110.6L193.9 110.1L194.0 109.7L194.1 109.2L194.2 108.7L194.3 108.2L194.4 107.7L194.5 107.2L194.6 106.7L194.7 106.2L194.8 105.7L194.9 105.2L195.0 104.8L195.1 104.3L195.2 103.8L195.4 103.3L195.5 102.8L195.6 102.3L195.7 101.8L195.8 101.3L195.9 100.8L196.0 100.4L196.1 99.9L196.2 99.4L196.3 98.9L196.4 98.4L196.5 97.9L196.6 97.4L196.8 96.9L196.9 96.4L197.0 96.0L197.1 95.5L197.2 95.0L197.3 94.5L197.4 94.0L197.5 93.5L197.6 93.0L197.7 92.5L197.9 92.1L198.0 91.6L198.1 91.1L198.2 90.6L198.3 90.1L198.5 89.6L198.6 89.1L198.7 88.6L198.8 88.2L199.0 87.7L199.1 87.2L199.2 86.7L199.3 86.2L199.5 85.7L199.6 85.3L199.7 84.8L199.9 84.3L200.0 83.8L200.2 83.3L200.3 82.9L200.5 82.4L200.6 81.9L200.7 81.4L200.9 80.9L201.0 80.5L201.2 80.0L201.3 79.5L201.5 79.0L201.6 78.5L201.8 78.1L201.9 77.6L202.1 77.1L202.2 76.6L202.3 76.1L202.5 75.7L202.6 75.2L202.8 74.7L202.9 74.2L203.1 73.8L203.2 73.3L203.3 72.8L203.5 72.3L203.6 71.8L203.8 71.3L203.9 70.9L204.0 70.4L204.2 69.9L204.3 69.4L204.4 68.9L204.6 68.4L204.7 68.0L204.9 67.5L205.0 67.0L205.1 66.5L205.3 66.1L205.4 65.6L205.6 65.1L205.8 64.6L205.9 64.2L206.1 63.7L206.3 63.2L206.4 62.7L206.6 62.3L206.8 61.8L207.0 61.3L207.2 60.9L207.4 60.4L207.6 60.0L207.8 59.5L208.0 59.0L208.2 58.6L208.4 58.1L208.6 57.7L208.9 57.2L209.1 56.8L209.3 56.4L209.5 55.9L209.8 55.5L210.0 55.0L210.2 54.6L210.4 54.1L210.6 53.7L210.8 53.2L211.0 52.7L211.2 52.3L211.4 51.8L211.6 51.4L211.8 50.9L212.1 50.4L212.3 50.0L212.5 49.5L212.7 49.1L212.9 48.6L213.2 48.2L213.4 47.8L213.6 47.3L213.8 46.9L214.1 46.4L214.3 46.0L214.6 45.5L214.8 45.1L215.0 44.7L215.3 44.2L215.5 43.8L215.8 43.4L216.0 42.9L216.3 42.5L216.6 42.1L216.8 41.6L217.1 41.2L217.3 40.8L217.6 40.4L217.8 39.9L218.1 39.5L218.4 39.1L218.6 38.6L218.9 38.2L219.1 37.8L219.4 37.3L219.6 36.9L219.9 36.5L220.1 36.0L220.4 35.6L220.7 35.2L220.9 34.8L221.2 34.3L221.4 33.9L221.7 33.5L222.0 33.1L222.2 32.6L222.5 32.2L222.8 31.8L223.1 31.4L223.3 30.9L223.6 30.5L223.9 30.1L224.2 29.7L224.5 29.3L224.8 28.9L225.1 28.5L225.4 28.1L225.7 27.7L226.0 27.4L226.4 27.0L226.7 26.6L227.0 26.2L227.4 25.9L227.7 25.5L228.1 25.1L228.4 24.8L228.8 24.4L229.1 24.1L229.5 23.7L229.8 23.4L230.2 23.0L230.6 22.7L230.9 22.3L231.3 22.0L231.7 21.7L232.1 21.3L232.5 21.0L232.9 20.7L233.3 20.4L233.7 20.1L234.1 19.9L234.5 19.6L235.0 19.4L235.4 19.1L235.8 18.9L236.3 18.6L236.7 18.4L237.2 18.2L237.7 18.0L238.1 17.8L238.6 17.6L239.1 17.5L239.5 17.3L240.0 17.2L240.5 17.0L241.0 16.9L241.4 16.7L241.9 16.6L242.4 16.5L242.9 16.3L243.4 16.2L243.9 16.1L244.4 16.1L244.9 16.0L245.4 16.0L245.9 15.9L246.4 15.9L246.9 15.8L247.4 15.8L247.9 15.8L248.4 15.7L248.9 15.7L249.4 15.7L249.9 15.7L250.4 15.7L250.9 15.7L251.4 15.7L251.9 15.7L252.4 15.8L252.9 15.8L253.4 15.8L253.9 15.9L254.4 15.9L254.9 15.9L255.4 16.0L255.9 16.1L256.4 16.1L256.8 16.2L257.3 16.4L257.8 16.5L258.2 16.8L258.7 17.0L259.1 17.3L259.5 17.6L260.0 17.8L260.4 18.1L260.9 18.4L261.3 18.6L261.7 18.8L262.2 19.1L262.6 19.3L263.1 19.6L263.5 19.8L263.9 20.1L264.4 20.3L264.8 20.6L265.2 20.8L265.7 21.1L266.1 21.4L266.5 21.7L266.9 21.9L267.3 22.2L267.7 22.6L268.0 22.9L268.4 23.2L268.8 23.5L269.2 23.9L269.6 24.2L269.9 24.5L270.3 24.9L270.7 25.2L271.0 25.6L271.4 25.9L271.8 26.3L272.1 26.6L272.5 26.9L272.9 27.3L273.2 27.6L273.6 28.0L273.9 28.3L274.3 28.7L274.7 29.0L275.0 29.4L275.4 29.7L275.7 30.1L276.1 30.4L276.4 30.8L276.8 31.2L277.1 31.5L277.5 31.9L277.8 32.3L278.1 32.6L278.5 33.0L278.8 33.4L279.1 33.7L279.5 34.1L279.8 34.5L280.1 34.9L280.5 35.3L280.8 35.6L281.1 36.0L281.5 36.4L281.8 36.8L282.1 37.1L282.5 37.5L282.8 37.9L283.1 38.2L283.5 38.6L283.8 39.0L284.2 39.3L284.5 39.7L284.8 40.1L285.1 40.5L285.5 40.9L285.8 41.3L286.1 41.7L286.3 42.1L286.6 42.5L286.9 42.9L287.2 43.3L287.5 43.7L287.7 44.2L288.0 44.6L288.2 45.0L288.5 45.5L288.8 45.9L289.0 46.3L289.3 46.7L289.5 47.2L289.8 47.6L290.0 48.0L290.3 48.5L290.5 48.9L290.7 49.4L291.0 49.8L291.2 50.2L291.4 50.7L291.7 51.1L291.9 51.6L292.1 52.0L292.3 52.5L292.6 52.9L292.8 53.4L293.0 53.8L293.2 54.3L293.4 54.7L293.6 55.2L293.9 55.6L294.1 56.1L294.3 56.5L294.5 57.0L294.8 57.4L295.0 57.9L295.2 58.3L295.5 58.7L295.7 59.2L295.9 59.6L296.2 60.1L296.4 60.5L296.6 61.0L296.8 61.4L297.0 61.9L297.2 62.4L297.4 62.8L297.6 63.3L297.8 63.7L298.0 64.2L298.2 64.7L298.4 65.1L298.6 65.6L298.8 66.0L299.0 66.5L299.2 67.0L299.4 67.4L299.6 67.9L299.8 68.3L300.0 68.8L300.2 69.3L300.4 69.7L300.6 70.2L300.8 70.6L301.1 71.1L301.3 71.5L301.5 72.0L301.7 72.4L302.0 72.9L302.2 73.3L302.4 73.8L302.6 74.2L302.8 74.7L302.9 75.1L303.1 75.6L303.3 76.1L303.4 76.6L303.6 77.0L303.8 77.5L303.9 78.0L304.1 78.5L304.2 78.9L304.4 79.4L304.6 79.9L304.7 80.4L304.9 80.8L305.0 81.3L305.2 81.8L305.3 82.3L305.5 82.8L305.6 83.2L305.8 83.7L305.9 84.2L306.1 84.7L306.2 85.1L306.4 85.6L306.5 86.1L306.7 86.6L306.9 87.0L307.0 87.5L307.2 88.0L307.3 88.5L307.5 88.9L307.6 89.4L307.8 89.9L307.9 90.4L308.1 90.9L308.2 91.3L308.4 91.8L308.5 92.3L308.6 92.8L308.8 93.3L308.9 93.7L309.1 94.2L309.2 94.7L309.3 95.2L309.5 95.7L309.6 96.1L309.8 96.6L309.9 97.1L310.1 97.6L310.2 98.1L310.3 98.5L310.5 99.0L310.6 99.5L310.7 100.0L310.9 100.5L311.0 101.0L311.1 101.4L311.3 101.9L311.4 102.4L311.5 102.9L311.6 103.4L311.8 103.9L311.9 104.4L312.0 104.8L312.1 105.3L312.2 105.8L312.3 106.3L312.4 106.8L312.5 107.3L312.6 107.8L312.7 108.3L312.8 108.7L312.9 109.2L313.0 109.7L313.1 110.2L313.2 110.7L313.3 111.2L313.5 111.7L313.6 112.2L313.7 112.7L313.8 113.2L313.9 113.7L314.0 114.1L314.1 114.6L314.2 115.1L314.3 115.6L314.5 116.1L314.6 116.6L314.7 117.1L314.8 117.5L315.0 118.0L315.1 118.5L315.2 119.0L315.3 119.5L315.5 120.0L315.6 120.4L315.7 120.9L315.8 121.4L316.0 121.9L316.1 122.4L316.2 122.9L316.4 123.4L316.5 123.8L316.6 124.3L316.7 124.8L316.9 125.3L317.0 125.8L317.1 126.3L317.3 126.7L317.4 127.2L317.5 127.7L317.6 128.2L317.8 128.7L317.9 129.2L318.0 129.7L318.1 130.1L318.2 130.6L318.3 131.1L318.4 131.6L318.5 132.1L318.6 132.6L318.7 133.1L318.8 133.6L318.8 134.1L318.9 134.6L319.0 135.1L319.0 135.6L319.1 136.1L319.2 136.6L319.2 137.1L319.3 137.6L319.4 138.1L319.4 138.5L319.5 139.0L319.6 139.5L319.7 140.0L319.7 140.5L319.8 141.0L319.9 141.5L320.1 142.0L320.2 142.5L320.3 143.0L320.4 143.5L320.5 143.9L320.6 144.4L320.7 144.9L320.8 145.4L320.9 145.9L321.0 146.4L321.1 146.9L321.2 147.4L321.2 147.9L321.3 148.4L321.4 148.9L321.5 149.4L321.5 149.9L321.6 150.4L321.7 150.9L321.8 151.3L321.8 151.8L321.9 152.3L322.0 152.8L322.1 153.3L322.1 153.8L322.2 154.3L322.3 154.8L322.4 155.3L322.5 155.8L322.5 156.3L322.6 156.8L322.7 157.3L322.8 157.8L322.9 158.3L323.0 158.8L323.0 159.3L323.1 159.7L323.2 160.2L323.3 160.7L323.4 161.2L323.5 161.7L323.5 162.2L323.6 162.7L323.7 163.2L323.8 163.7L323.8 164.2L323.9 164.7L324.0 165.2L324.1 165.7L324.1 166.2L324.2 166.7L324.3 167.2L324.3 167.7L324.4 168.2L324.5 168.7L324.6 169.2L324.7 169.6L324.7 170.1L324.8 170.6L324.9 171.1L325.0 171.6L325.1 172.1L325.2 172.6L325.3 173.1L325.4 173.6L325.5 174.1L325.6 174.6L325.7 175.1L325.8 175.6L325.9 176.1L326.0 176.6L326.1 177.1L326.2 177.6L326.4 178.0L326.5 178.5L326.7 179.0L326.8 179.4L327.0 179.9L327.2 180.3L327.5 180.7L327.7 181.2L328.0 181.6L328.3 182.0L328.6 182.4L328.9 182.8L329.3 183.2L329.6 183.6L329.6 183.6L329.9 183.2L330.1 182.7L330.4 182.3L330.7 181.9L330.9 181.4L331.2 181.0L331.4 180.6L331.7 180.1L331.9 179.7L332.1 179.3L332.4 178.8L332.6 178.4L332.8 177.9L333.1 177.5L333.3 177.0L333.5 176.6L333.7 176.1L333.9 175.6L334.1 175.2L334.3 174.7L334.5 174.3L334.7 173.8L334.9 173.3L335.1 172.9L335.3 172.4L335.5 172.0L335.7 171.5L335.9 171.0L336.1 170.6L336.3 170.1L336.5 169.6L336.7 169.2L336.9 168.7L337.1 168.2L337.3 167.8L337.6 167.4L337.8 166.9L338.1 166.4L338.3 166.0L338.6 165.5L338.8 165.1L339.1 164.7L339.4 164.3L339.7 164.0L340.1 163.6L340.4 163.2L340.8 162.8L341.2 162.4L341.6 162.0L342.1 161.7L342.5 161.4L342.9 161.3L343.4 161.2L343.8 161.2L344.3 161.3L344.7 161.4L345.2 161.6L345.7 161.8L346.2 162.1L346.7 162.3L347.2 162.6L347.6 162.9L348.0 163.1L348.4 163.4L348.8 163.7L349.1 164.0L349.5 164.4L349.8 164.8L350.1 165.2L350.4 165.6L350.7 166.0L351.0 166.5L351.3 166.9L351.6 167.3L351.8 167.8L352.1 168.2L352.4 168.6L352.7 169.0L353.0 169.4L353.3 169.9L353.5 170.3L353.8 170.7L354.1 171.1L354.4 171.6L354.6 172.0L354.9 172.5L355.2 172.9L355.4 173.3L355.6 173.8L355.9 174.2L356.1 174.7L356.3 175.1L356.4 175.6L356.6 176.1L356.7 176.5L356.9 177.0L357.0 177.5L357.1 178.0L357.2 178.5L357.3 179.0L357.4 179.5L357.5 180.0L357.6 180.5L357.7 181.0L357.8 181.5L357.9 182.0L358.1 182.4L358.2 182.9L358.3 183.4L358.4 183.9L358.5 184.4L358.7 184.9L358.8 185.4L358.9 185.9L359.0 186.4L359.1 186.8L359.3 187.3L359.4 187.8L359.5 188.3L359.6 188.8L359.7 189.3L359.9 189.8L360.0 190.3L360.1 190.8L360.2 191.2L360.3 191.7L360.5 192.2L360.6 192.7L360.7 193.2L360.8 193.7L360.9 194.2L361.1 194.7L361.2 195.2L361.3 195.7L361.4 196.1L361.5 196.6L361.6 197.1L361.7 197.6L361.8 198.1L361.8 198.6L361.9 199.1L362.0 199.6L362.1 200.1L362.1 200.6L362.2 201.1L362.3 201.6L362.4 202.1L362.4 202.6L362.5 203.1L362.5 203.6L362.6 204.1L362.7 204.6L362.7 205.1L362.8 205.6L362.8 206.1L362.9 206.6L362.9 207.1L363.0 207.6L363.1 208.1L363.2 208.6L363.2 209.1L363.3 209.6L363.4 210.1L363.5 210.6L363.6 211.1L363.6 211.6L363.7 212.1L363.8 212.6L363.9 213.1L363.9 213.6L364.0 214.1L364.1 214.6L364.2 215.1L364.2 215.6L364.3 216.1L364.4 216.6L364.4 217.1L364.5 217.6L364.6 218.1L364.7 218.6L364.7 219.1L364.8 219.6L364.9 220.0L364.9 220.5L365.0 221.0L365.1 221.5L365.2 222.0L365.2 222.5L365.3 223.0L365.4 223.5L365.4 224.0L365.5 224.5L365.6 225.0L365.6 225.5L365.7 226.0L365.8 226.5L365.9 227.0L365.9 227.5L366.0 228.0L366.1 228.5L366.1 229.0L366.2 229.5L366.3 230.0L366.3 230.5L366.4 231.0L366.5 231.5L366.5 232.0L366.6 232.5L366.7 233.0L366.7 233.5L366.8 234.0L366.9 234.5L366.9 235.0L367.0 235.5L367.1 236.0L367.1 236.5L367.2 237.0L367.3 237.5L367.3 238.0L367.4 238.5L367.4 239.0L367.5 239.5L367.6 240.0L367.6 240.5L367.7 241.0L367.8 241.5L367.8 242.0L367.9 242.5L367.9 243.0L368.0 243.5L368.1 244.0L368.1 244.5L368.2 245.0L368.2 245.5L368.3 246.0L368.3 246.0L368.4 245.5L368.5 245.0L368.6 244.5L368.6 244.0L368.7 243.5L368.8 243.0L368.9 242.5L369.0 242.0L369.1 241.5L369.1 241.0L369.2 240.6L369.3 240.1L369.4 239.6L369.5 239.1L369.6 238.6L369.7 238.1L369.7 237.6L369.8 237.1L369.9 236.6L370.0 236.1L370.1 235.6L370.2 235.1L370.3 234.6L370.3 234.1L370.4 233.6L370.5 233.1L370.6 232.6L370.7 232.1L370.8 231.6L370.9 231.1L370.9 230.6L371.0 230.2L371.1 229.7L371.2 229.2L371.3 228.7L371.4 228.2L371.5 227.7L371.5 227.2L371.6 226.7L371.7 226.2L371.8 225.7L371.9 225.2L372.0 224.7L372.1 224.2L372.2 223.7L372.2 223.2L372.3 222.7L372.4 222.2L372.5 221.7L372.6 221.2L372.7 220.7L372.8 220.3L372.8 219.8L372.9 219.3L373.0 218.8L373.1 218.3L373.2 217.8L373.3 217.3L373.4 216.8L373.4 216.3L373.5 215.8L373.6 215.3L373.7 214.8L373.8 214.3L373.9 213.8L374.0 213.3L374.1 212.8L374.1 212.3L374.2 211.8L374.3 211.3L374.4 210.8L374.5 210.4L374.6 209.9L374.7 209.4L374.8 208.9L374.8 208.4L374.9 207.9L375.0 207.4L375.1 206.9L375.2 206.4L375.3 205.9L375.4 205.4L375.5 204.9L375.6 204.4L375.7 203.9L375.7 203.4L375.8 202.9L375.9 202.4L376.0 201.9L376.0 201.4L376.1 200.9L376.2 200.4L376.2 199.9L376.3 199.4L376.3 198.9L376.4 198.4L376.5 197.9L376.5 197.4L376.6 196.9L376.6 196.4L376.7 196.0L376.8 195.5L376.8 195.0L376.9 194.5L377.0 194.0L377.0 193.5L377.1 193.0L377.2 192.5L377.2 192.0L377.3 191.5L377.4 191.0L377.5 190.5L377.6 190.0L377.7 189.5L377.8 189.0L377.9 188.5L378.0 188.0L378.1 187.5L378.2 187.0L378.4 186.6L378.5 186.1L378.6 185.6L378.7 185.1L378.8 184.6L378.9 184.1L379.0 183.6L379.1 183.1L379.3 182.6L379.4 182.1L379.5 181.7L379.6 181.2L379.8 180.7L379.9 180.2L380.0 179.7L380.2 179.2L380.3 178.8L380.4 178.3L380.6 177.8L380.7 177.3L380.9 176.8L381.0 176.3L381.2 175.9L381.3 175.4L381.4 174.9L381.6 174.4L381.7 173.9L381.8 173.4L381.9 173.0L382.1 172.5L382.2 172.0L382.4 171.5L382.5 171.0L382.6 170.5L382.8 170.1L383.0 169.6L383.1 169.1L383.3 168.6L383.5 168.2L383.6 167.7L383.8 167.2L384.0 166.7L384.1 166.3L384.3 165.8L384.4 165.3L384.6 164.8L384.8 164.4L384.9 163.9L385.1 163.4L385.2 162.9L385.4 162.4L385.5 162.0L385.7 161.5L385.8 161.0L386.0 160.5L386.1 160.0L386.3 159.6L386.4 159.1L386.5 158.6L386.6 158.1L386.7 157.6L386.9 157.1L387.0 156.6L387.1 156.1L387.3 155.7L387.5 155.2L387.7 154.8L388.0 154.4L388.2 153.9L388.5 153.5L388.8 153.1L389.1 152.6L389.4 152.2L389.6 151.8L389.9 151.4L390.1 150.9L390.4 150.5L390.6 150.1L390.9 149.6L391.1 149.2L391.4 148.8L391.6 148.3L391.9 147.9L392.1 147.4L392.4 147.0L392.6 146.6L392.9 146.1L393.1 145.7L393.4 145.2L393.6 144.8L393.8 144.4L394.1 143.9L394.3 143.5L394.6 143.1L394.9 142.6L395.2 142.2L395.4 141.8L395.7 141.4L396.0 141.0L396.3 140.6L396.6 140.2L396.9 139.8L397.3 139.4L397.6 139.0L397.9 138.6L398.2 138.2L398.6 137.9L398.9 137.5L399.2 137.1L399.5 136.7L399.9 136.4L400.2 136.0L400.6 135.6L400.9 135.3L401.3 134.9L401.6 134.6L402.0 134.2L402.4 133.9L402.7 133.5L403.1 133.2L403.5 132.9L403.9 132.6L404.3 132.2L404.7 131.9L405.1 131.6L405.5 131.3L405.9 131.0L406.3 130.7L406.7 130.4L407.1 130.1L407.5 129.8L407.9 129.5L408.3 129.2L408.7 128.9L409.1 128.6L409.5 128.3L409.9 128.0L410.3 127.7L410.8 127.5L411.2 127.2L411.6 126.9L412.0 126.6L412.4 126.4L412.9 126.1L413.3 125.8L413.7 125.5L414.1 125.3L414.6 125.0L415.0 124.7L415.4 124.5L415.8 124.2L416.3 123.9L416.7 123.7L417.1 123.4L417.6 123.2L418.0 122.9L418.4 122.7L418.9 122.4L419.3 122.2L419.8 122.0L420.2 121.8L420.7 121.5L421.1 121.3L421.6 121.1L422.1 120.9L422.5 120.7L423.0 120.6L423.5 120.4L423.9 120.2L424.4 120.1L424.9 119.9L425.4 119.8L425.8 119.6L426.3 119.5L426.8 119.4L427.3 119.2L427.8 119.1L428.3 119.0L428.8 118.8L429.2 118.7L429.7 118.5L430.2 118.4L430.7 118.2L431.2 118.1L431.6 117.9L432.1 117.8L432.6 117.6L433.1 117.5L433.6 117.4L434.1 117.3L434.6 117.2L435.0 117.1L435.5 117.0L436.0 116.9L436.5 116.8L437.0 116.7L437.5 116.6L438.0 116.5L438.5 116.5L439.0 116.4L439.5 116.3L440.0 116.2L440.5 116.2L441.0 116.1L441.5 116.1L442.0 116.0" fill="none" stroke="#0000ff" stroke-width="2.9" stroke-dasharray="2.7 2.5" stroke-linejoin="round"/>
<line x1="353.3" x2="353.3" y1="0.4" y2="213.0" stroke="#fff" stroke-opacity=".75" stroke-width="4" stroke-dasharray="9.7 6.01"/>
<line x1="353.3" x2="353.3" y1="1.2" y2="213.0" stroke="#000" stroke-width="2.3" stroke-dasharray="8.1 7.61"/>
<line x1="250.8" x2="250.8" y1="6.0" y2="213.0" stroke="#000" stroke-width="2.1" stroke-dasharray="2 1.95"/>
<path d="M353.2 80.1L359.1 89.7H347.3Z" fill="none" stroke="#fff" stroke-opacity=".7" stroke-width="2.4"/>
<path d="M353.2 80.1L359.1 89.7H347.3Z" fill="#8b0000" stroke="#400" stroke-width=".8"/>
<circle cx="353.2" cy="112.2" r="5" fill="#22c822" stroke="#0a8a0a" stroke-width=".9"/>
<path d="M353.3 176.3L347.5 166.6H359.1Z" fill="#1a1a80" stroke="#003" stroke-width=".8"/>
</g>
<path d="M36.5 213.0H442.0" fill="none" stroke="#c8c8c8" stroke-width="1"/>
<path d="M36.5 212.7H442.0" fill="none" stroke="#adadad" stroke-width="1.2" clip-path="url(#gm)"/>
<path d="M36.5 5.0V213.5" fill="none" stroke="#a6a6a6" stroke-width="1"/>
<line x1="36.4" x2="36.4" y1="213.0" y2="209.5" stroke="#777" stroke-width=".8"/>
<line x1="137.8" x2="137.8" y1="213.0" y2="209.5" stroke="#777" stroke-width=".8"/>
<line x1="239.2" x2="239.2" y1="213.0" y2="209.5" stroke="#777" stroke-width=".8"/>
<line x1="340.6" x2="340.6" y1="213.0" y2="209.5" stroke="#777" stroke-width=".8"/>
<line x1="442.0" x2="442.0" y1="213.0" y2="209.5" stroke="#777" stroke-width=".8"/>
<line x1="36.5" x2="39.5" y1="15.6" y2="15.6" stroke="#b4b4b4" stroke-width=".8"/>
<line x1="36.5" x2="39.5" y1="68.9" y2="68.9" stroke="#b4b4b4" stroke-width=".8"/>
<line x1="36.5" x2="39.5" y1="122.2" y2="122.2" stroke="#b4b4b4" stroke-width=".8"/>
<line x1="36.5" x2="39.5" y1="175.5" y2="175.5" stroke="#b4b4b4" stroke-width=".8"/>
<rect x="41.5" y="10.5" width="105.8" height="65.5" fill="#fff" stroke="#b4b4b4" stroke-width="1"/>
<line x1="44.5" x2="63" y1="17.9" y2="17.9" stroke="#f00" stroke-width="2.6" stroke-dasharray="10.2 2.9 5.6 9"/>
<line x1="44.3" x2="63.7" y1="30.8" y2="30.8" stroke="#00ae00" stroke-width="2.6"/>
<line x1="44.5" x2="63" y1="43.6" y2="43.6" stroke="#00f" stroke-width="2.7" stroke-dasharray="2.8 2.6"/>
<line x1="44.3" x2="63.8" y1="55.8" y2="55.8" stroke="#000" stroke-width="1.8" stroke-dasharray="7.6 8.2 3.7 9"/>
<line x1="44.3" x2="63.8" y1="69.1" y2="69.1" stroke="#000" stroke-width="1.9" stroke-dasharray="2 1.95"/>
<text x="66" y="21.5" class="lg">Backtrack upper</text>
<text x="66" y="34.4" class="lg">Nominal</text>
<text x="66" y="47.2" class="lg">Backtrack lower</text>
<text x="66" y="60.0" class="lg">Reference angle</text>
<text x="66" y="72.8" class="lg">Steering angle</text>
<text x="36.2" y="228.6" class="tk" text-anchor="middle">-90</text>
<text x="137.8" y="228.6" class="tk" text-anchor="middle">-45</text>
<text x="239.2" y="228.6" class="tk" text-anchor="middle">0</text>
<text x="340.6" y="228.6" class="tk" text-anchor="middle">45</text>
<text x="442.2" y="228.6" class="tk" text-anchor="middle">90</text>
<text x="31.6" y="19.9" class="tk" text-anchor="end">0</text>
<text x="31.6" y="73.2" class="tk" text-anchor="end">-10</text>
<text x="31.6" y="126.5" class="tk" text-anchor="end">-20</text>
<text x="31.6" y="179.8" class="tk" text-anchor="end">-30</text>
<text x="240.3" y="243.8" class="lb" text-anchor="middle"><tspan class="th">θ</tspan> (deg)</text>
<text transform="translate(10 109.3) rotate(-90)" class="lb" text-anchor="middle">Power (dB)</text>
</svg>
</body></html>
